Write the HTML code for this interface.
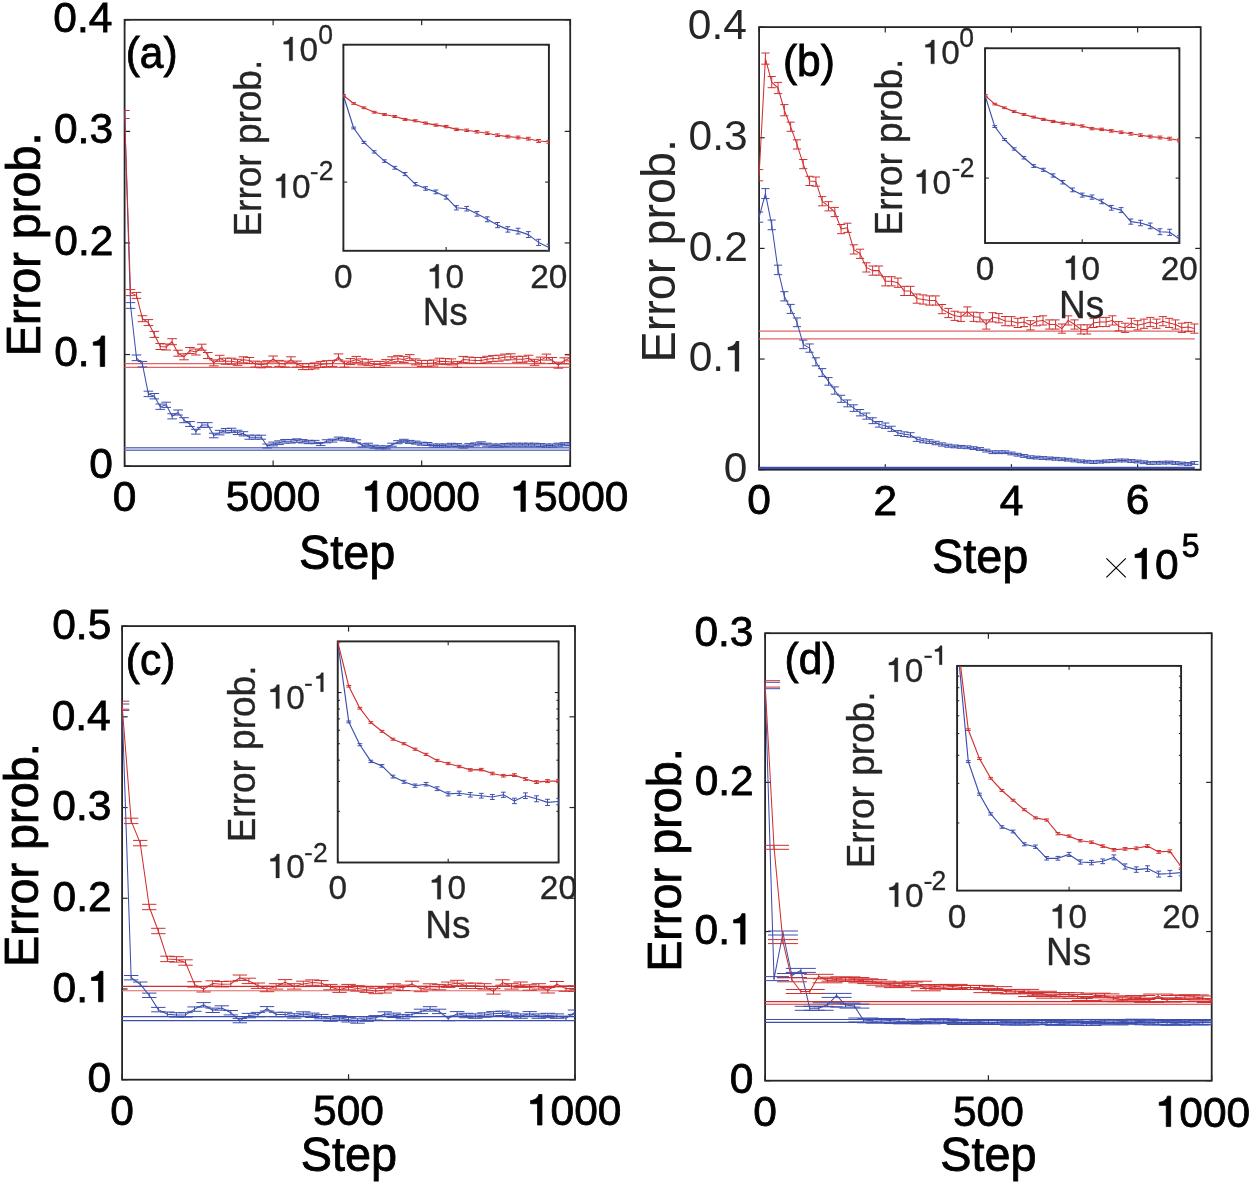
<!DOCTYPE html>
<html><head><meta charset="utf-8"><style>html,body{margin:0;padding:0;background:#fff;overflow:hidden}svg{display:block;will-change:transform}</style></head>
<body><svg width="1250" height="1183" viewBox="0 0 1250 1183" font-family="Liberation Sans, sans-serif">
<rect width="1250" height="1183" fill="#fff"/>
<rect x="124.60" y="19.80" width="445.60" height="446.30" fill="none" stroke="#262626" stroke-width="1.8"/>
<line x1="124.60" y1="466.10" x2="124.60" y2="460.60" stroke="#262626" stroke-width="1.2"/>
<line x1="124.60" y1="19.80" x2="124.60" y2="25.30" stroke="#262626" stroke-width="1.2"/>
<line x1="273.13" y1="466.10" x2="273.13" y2="460.60" stroke="#262626" stroke-width="1.2"/>
<line x1="273.13" y1="19.80" x2="273.13" y2="25.30" stroke="#262626" stroke-width="1.2"/>
<line x1="421.67" y1="466.10" x2="421.67" y2="460.60" stroke="#262626" stroke-width="1.2"/>
<line x1="421.67" y1="19.80" x2="421.67" y2="25.30" stroke="#262626" stroke-width="1.2"/>
<line x1="570.20" y1="466.10" x2="570.20" y2="460.60" stroke="#262626" stroke-width="1.2"/>
<line x1="570.20" y1="19.80" x2="570.20" y2="25.30" stroke="#262626" stroke-width="1.2"/>
<line x1="124.60" y1="466.10" x2="130.10" y2="466.10" stroke="#262626" stroke-width="1.2"/>
<line x1="570.20" y1="466.10" x2="564.70" y2="466.10" stroke="#262626" stroke-width="1.2"/>
<line x1="124.60" y1="354.53" x2="130.10" y2="354.53" stroke="#262626" stroke-width="1.2"/>
<line x1="570.20" y1="354.53" x2="564.70" y2="354.53" stroke="#262626" stroke-width="1.2"/>
<line x1="124.60" y1="242.95" x2="130.10" y2="242.95" stroke="#262626" stroke-width="1.2"/>
<line x1="570.20" y1="242.95" x2="564.70" y2="242.95" stroke="#262626" stroke-width="1.2"/>
<line x1="124.60" y1="131.38" x2="130.10" y2="131.38" stroke="#262626" stroke-width="1.2"/>
<line x1="570.20" y1="131.38" x2="564.70" y2="131.38" stroke="#262626" stroke-width="1.2"/>
<line x1="124.60" y1="19.80" x2="130.10" y2="19.80" stroke="#262626" stroke-width="1.2"/>
<line x1="570.20" y1="19.80" x2="564.70" y2="19.80" stroke="#262626" stroke-width="1.2"/>
<text transform="translate(112.78,511.37) scale(1,1.01)" font-size="42.5" fill="#000" stroke="#000" stroke-width="0.8">0</text>
<text transform="translate(225.85,511.37) scale(1,1.01)" font-size="42.5" fill="#000" stroke="#000" stroke-width="0.8">5000</text>
<g transform="translate(361.78,511.37) scale(1,1.01)" fill="#000" stroke="#000" stroke-width="0.8"><path transform="translate(0.00,0) scale(0.04250,-0.04250)" stroke-width="18.82" d="M250,0L353,0L353,709L278,709C262,640 200,578 85,567L85,494L250,494Z"/><text x="23.64" y="0" font-size="42.5">0000</text></g>
<g transform="translate(510.32,511.37) scale(1,1.01)" fill="#000" stroke="#000" stroke-width="0.8"><path transform="translate(0.00,0) scale(0.04250,-0.04250)" stroke-width="18.82" d="M250,0L353,0L353,709L278,709C262,640 200,578 85,567L85,494L250,494Z"/><text x="23.64" y="0" font-size="42.5">5000</text></g>
<text transform="translate(89.23,477.97) scale(1,1.01)" font-size="42.5" fill="#000" stroke="#000" stroke-width="0.8">0</text>
<g transform="translate(54.21,366.40) scale(1,1.01)" fill="#000" stroke="#000" stroke-width="0.8"><text x="0.00" y="0" font-size="42.5">0.</text><path transform="translate(35.44,0) scale(0.04250,-0.04250)" stroke-width="18.82" d="M250,0L353,0L353,709L278,709C262,640 200,578 85,567L85,494L250,494Z"/></g>
<text transform="translate(54.25,254.82) scale(1,1.01)" font-size="42.5" fill="#000" stroke="#000" stroke-width="0.8">0.2</text>
<text transform="translate(53.99,143.25) scale(1,1.01)" font-size="42.5" fill="#000" stroke="#000" stroke-width="0.8">0.3</text>
<text transform="translate(53.36,31.67) scale(1,1.01)" font-size="42.5" fill="#000" stroke="#000" stroke-width="0.8">0.4</text>
<text transform="translate(298.97,568.97) scale(1,1.04)" font-size="46.8" fill="#000" stroke="#000" stroke-width="0.8">Step</text>
<text transform="translate(39.89,356.19) rotate(-90) scale(1,1.04)" font-size="46.8" fill="#000" stroke="#000" stroke-width="0.8">Error prob.</text>
<text transform="translate(125.67,67.94) scale(1,1.04)" font-size="42.5" fill="#000" stroke="#000" stroke-width="0.8">(a)</text>
<rect x="343.40" y="44.70" width="205.50" height="206.10" fill="#fff"/>
<rect x="343.40" y="44.70" width="205.50" height="206.10" fill="none" stroke="#262626" stroke-width="1.9"/>
<line x1="343.40" y1="250.80" x2="343.40" y2="247.00" stroke="#262626" stroke-width="1.1"/>
<line x1="343.40" y1="44.70" x2="343.40" y2="48.50" stroke="#262626" stroke-width="1.1"/>
<line x1="446.15" y1="250.80" x2="446.15" y2="247.00" stroke="#262626" stroke-width="1.1"/>
<line x1="446.15" y1="44.70" x2="446.15" y2="48.50" stroke="#262626" stroke-width="1.1"/>
<line x1="548.90" y1="250.80" x2="548.90" y2="247.00" stroke="#262626" stroke-width="1.1"/>
<line x1="548.90" y1="44.70" x2="548.90" y2="48.50" stroke="#262626" stroke-width="1.1"/>
<line x1="343.40" y1="182.10" x2="347.20" y2="182.10" stroke="#262626" stroke-width="1.1"/>
<line x1="548.90" y1="182.10" x2="545.10" y2="182.10" stroke="#262626" stroke-width="1.1"/>
<line x1="343.40" y1="44.70" x2="347.20" y2="44.70" stroke="#262626" stroke-width="1.1"/>
<line x1="548.90" y1="44.70" x2="545.10" y2="44.70" stroke="#262626" stroke-width="1.1"/>
<rect x="759.10" y="27.10" width="441.60" height="442.60" fill="none" stroke="#262626" stroke-width="1.8"/>
<line x1="759.10" y1="469.70" x2="759.10" y2="464.20" stroke="#262626" stroke-width="1.2"/>
<line x1="759.10" y1="27.10" x2="759.10" y2="32.60" stroke="#262626" stroke-width="1.2"/>
<line x1="885.27" y1="469.70" x2="885.27" y2="464.20" stroke="#262626" stroke-width="1.2"/>
<line x1="885.27" y1="27.10" x2="885.27" y2="32.60" stroke="#262626" stroke-width="1.2"/>
<line x1="1011.44" y1="469.70" x2="1011.44" y2="464.20" stroke="#262626" stroke-width="1.2"/>
<line x1="1011.44" y1="27.10" x2="1011.44" y2="32.60" stroke="#262626" stroke-width="1.2"/>
<line x1="1137.61" y1="469.70" x2="1137.61" y2="464.20" stroke="#262626" stroke-width="1.2"/>
<line x1="1137.61" y1="27.10" x2="1137.61" y2="32.60" stroke="#262626" stroke-width="1.2"/>
<line x1="759.10" y1="469.70" x2="764.60" y2="469.70" stroke="#262626" stroke-width="1.2"/>
<line x1="1200.70" y1="469.70" x2="1195.20" y2="469.70" stroke="#262626" stroke-width="1.2"/>
<line x1="759.10" y1="359.05" x2="764.60" y2="359.05" stroke="#262626" stroke-width="1.2"/>
<line x1="1200.70" y1="359.05" x2="1195.20" y2="359.05" stroke="#262626" stroke-width="1.2"/>
<line x1="759.10" y1="248.40" x2="764.60" y2="248.40" stroke="#262626" stroke-width="1.2"/>
<line x1="1200.70" y1="248.40" x2="1195.20" y2="248.40" stroke="#262626" stroke-width="1.2"/>
<line x1="759.10" y1="137.75" x2="764.60" y2="137.75" stroke="#262626" stroke-width="1.2"/>
<line x1="1200.70" y1="137.75" x2="1195.20" y2="137.75" stroke="#262626" stroke-width="1.2"/>
<line x1="759.10" y1="27.10" x2="764.60" y2="27.10" stroke="#262626" stroke-width="1.2"/>
<line x1="1200.70" y1="27.10" x2="1195.20" y2="27.10" stroke="#262626" stroke-width="1.2"/>
<text transform="translate(747.28,514.37) scale(1,1.01)" font-size="42.5" fill="#000" stroke="#000" stroke-width="0.8">0</text>
<text transform="translate(873.46,514.80) scale(1,1.01)" font-size="42.5" fill="#000" stroke="#000" stroke-width="0.8">2</text>
<text transform="translate(999.76,514.80) scale(1,1.01)" font-size="42.5" fill="#000" stroke="#000" stroke-width="0.8">4</text>
<text transform="translate(1125.65,514.37) scale(1,1.01)" font-size="42.5" fill="#000" stroke="#000" stroke-width="0.8">6</text>
<text transform="translate(723.73,482.07) scale(1,1.01)" font-size="42.5" fill="#262626" stroke="#262626" stroke-width="0">0</text>
<g transform="translate(688.71,371.42) scale(1,1.01)" fill="#262626" stroke="#262626" stroke-width="0"><text x="0.00" y="0" font-size="42.5">0.</text><path transform="translate(35.44,0) scale(0.04250,-0.04250)" stroke-width="0.00" d="M250,0L353,0L353,709L278,709C262,640 200,578 85,567L85,494L250,494Z"/></g>
<text transform="translate(688.75,260.77) scale(1,1.01)" font-size="42.5" fill="#262626" stroke="#262626" stroke-width="0">0.2</text>
<text transform="translate(688.50,150.12) scale(1,1.01)" font-size="42.5" fill="#262626" stroke="#262626" stroke-width="0">0.3</text>
<text transform="translate(687.86,39.47) scale(1,1.01)" font-size="42.5" fill="#262626" stroke="#262626" stroke-width="0">0.4</text>
<text transform="translate(932.05,573.37) scale(1,1.04)" font-size="46.8" fill="#000" stroke="#000" stroke-width="0.8">Step</text>
<text transform="translate(674.89,362.54) rotate(-90) scale(1,1.04)" font-size="46.8" fill="#262626" stroke="#262626" stroke-width="0">Error prob.</text>
<text transform="translate(782.97,75.65) scale(1,1.04)" font-size="42.5" fill="#000" stroke="#000" stroke-width="0.8">(b)</text>
<rect x="985.05" y="48.26" width="194.35" height="194.74" fill="#fff"/>
<rect x="985.05" y="48.26" width="194.35" height="194.74" fill="none" stroke="#262626" stroke-width="1.9"/>
<line x1="985.05" y1="243.00" x2="985.05" y2="239.20" stroke="#262626" stroke-width="1.1"/>
<line x1="985.05" y1="48.26" x2="985.05" y2="52.06" stroke="#262626" stroke-width="1.1"/>
<line x1="1082.22" y1="243.00" x2="1082.22" y2="239.20" stroke="#262626" stroke-width="1.1"/>
<line x1="1082.22" y1="48.26" x2="1082.22" y2="52.06" stroke="#262626" stroke-width="1.1"/>
<line x1="1179.40" y1="243.00" x2="1179.40" y2="239.20" stroke="#262626" stroke-width="1.1"/>
<line x1="1179.40" y1="48.26" x2="1179.40" y2="52.06" stroke="#262626" stroke-width="1.1"/>
<line x1="985.05" y1="178.09" x2="988.85" y2="178.09" stroke="#262626" stroke-width="1.1"/>
<line x1="1179.40" y1="178.09" x2="1175.60" y2="178.09" stroke="#262626" stroke-width="1.1"/>
<line x1="985.05" y1="48.26" x2="988.85" y2="48.26" stroke="#262626" stroke-width="1.1"/>
<line x1="1179.40" y1="48.26" x2="1175.60" y2="48.26" stroke="#262626" stroke-width="1.1"/>
<rect x="122.10" y="626.10" width="452.90" height="453.60" fill="none" stroke="#262626" stroke-width="1.8"/>
<line x1="122.10" y1="1079.70" x2="122.10" y2="1074.20" stroke="#262626" stroke-width="1.2"/>
<line x1="122.10" y1="626.10" x2="122.10" y2="631.60" stroke="#262626" stroke-width="1.2"/>
<line x1="348.55" y1="1079.70" x2="348.55" y2="1074.20" stroke="#262626" stroke-width="1.2"/>
<line x1="348.55" y1="626.10" x2="348.55" y2="631.60" stroke="#262626" stroke-width="1.2"/>
<line x1="575.00" y1="1079.70" x2="575.00" y2="1074.20" stroke="#262626" stroke-width="1.2"/>
<line x1="575.00" y1="626.10" x2="575.00" y2="631.60" stroke="#262626" stroke-width="1.2"/>
<line x1="122.10" y1="1079.70" x2="127.60" y2="1079.70" stroke="#262626" stroke-width="1.2"/>
<line x1="575.00" y1="1079.70" x2="569.50" y2="1079.70" stroke="#262626" stroke-width="1.2"/>
<line x1="122.10" y1="988.98" x2="127.60" y2="988.98" stroke="#262626" stroke-width="1.2"/>
<line x1="575.00" y1="988.98" x2="569.50" y2="988.98" stroke="#262626" stroke-width="1.2"/>
<line x1="122.10" y1="898.26" x2="127.60" y2="898.26" stroke="#262626" stroke-width="1.2"/>
<line x1="575.00" y1="898.26" x2="569.50" y2="898.26" stroke="#262626" stroke-width="1.2"/>
<line x1="122.10" y1="807.54" x2="127.60" y2="807.54" stroke="#262626" stroke-width="1.2"/>
<line x1="575.00" y1="807.54" x2="569.50" y2="807.54" stroke="#262626" stroke-width="1.2"/>
<line x1="122.10" y1="716.82" x2="127.60" y2="716.82" stroke="#262626" stroke-width="1.2"/>
<line x1="575.00" y1="716.82" x2="569.50" y2="716.82" stroke="#262626" stroke-width="1.2"/>
<line x1="122.10" y1="626.10" x2="127.60" y2="626.10" stroke="#262626" stroke-width="1.2"/>
<line x1="575.00" y1="626.10" x2="569.50" y2="626.10" stroke="#262626" stroke-width="1.2"/>
<text transform="translate(110.28,1124.97) scale(1,1.01)" font-size="42.5" fill="#000" stroke="#000" stroke-width="0.8">0</text>
<text transform="translate(313.08,1124.97) scale(1,1.01)" font-size="42.5" fill="#000" stroke="#000" stroke-width="0.8">500</text>
<g transform="translate(526.95,1124.97) scale(1,1.01)" fill="#000" stroke="#000" stroke-width="0.8"><path transform="translate(0.00,0) scale(0.04250,-0.04250)" stroke-width="18.82" d="M250,0L353,0L353,709L278,709C262,640 200,578 85,567L85,494L250,494Z"/><text x="23.64" y="0" font-size="42.5">000</text></g>
<text transform="translate(87.53,1092.47) scale(1,1.01)" font-size="42.5" fill="#000" stroke="#000" stroke-width="0.8">0</text>
<g transform="translate(52.51,1001.75) scale(1,1.01)" fill="#000" stroke="#000" stroke-width="0.8"><text x="0.00" y="0" font-size="42.5">0.</text><path transform="translate(35.44,0) scale(0.04250,-0.04250)" stroke-width="18.82" d="M250,0L353,0L353,709L278,709C262,640 200,578 85,567L85,494L250,494Z"/></g>
<text transform="translate(52.55,911.03) scale(1,1.01)" font-size="42.5" fill="#000" stroke="#000" stroke-width="0.8">0.2</text>
<text transform="translate(52.29,820.31) scale(1,1.01)" font-size="42.5" fill="#000" stroke="#000" stroke-width="0.8">0.3</text>
<text transform="translate(51.66,729.59) scale(1,1.01)" font-size="42.5" fill="#000" stroke="#000" stroke-width="0.8">0.4</text>
<text transform="translate(52.21,638.87) scale(1,1.01)" font-size="42.5" fill="#000" stroke="#000" stroke-width="0.8">0.5</text>
<text transform="translate(300.85,1171.07) scale(1,1.04)" font-size="46.8" fill="#000" stroke="#000" stroke-width="0.8">Step</text>
<text transform="translate(38.29,966.94) rotate(-90) scale(1,1.04)" font-size="46.8" fill="#000" stroke="#000" stroke-width="0.8">Error prob.</text>
<text transform="translate(125.77,674.84) scale(1,1.04)" font-size="42.5" fill="#000" stroke="#000" stroke-width="0.8">(c)</text>
<rect x="337.75" y="641.40" width="220.85" height="221.10" fill="#fff"/>
<rect x="337.75" y="641.40" width="220.85" height="221.10" fill="none" stroke="#262626" stroke-width="1.9"/>
<line x1="337.75" y1="862.50" x2="337.75" y2="858.70" stroke="#262626" stroke-width="1.1"/>
<line x1="337.75" y1="641.40" x2="337.75" y2="645.20" stroke="#262626" stroke-width="1.1"/>
<line x1="448.18" y1="862.50" x2="448.18" y2="858.70" stroke="#262626" stroke-width="1.1"/>
<line x1="448.18" y1="641.40" x2="448.18" y2="645.20" stroke="#262626" stroke-width="1.1"/>
<line x1="558.60" y1="862.50" x2="558.60" y2="858.70" stroke="#262626" stroke-width="1.1"/>
<line x1="558.60" y1="641.40" x2="558.60" y2="645.20" stroke="#262626" stroke-width="1.1"/>
<line x1="337.75" y1="862.50" x2="341.55" y2="862.50" stroke="#262626" stroke-width="1.1"/>
<line x1="558.60" y1="862.50" x2="554.80" y2="862.50" stroke="#262626" stroke-width="1.1"/>
<line x1="337.75" y1="692.56" x2="341.55" y2="692.56" stroke="#262626" stroke-width="1.1"/>
<line x1="558.60" y1="692.56" x2="554.80" y2="692.56" stroke="#262626" stroke-width="1.1"/>
<line x1="337.75" y1="811.34" x2="339.95" y2="811.34" stroke="#262626" stroke-width="1.1"/>
<line x1="558.60" y1="811.34" x2="556.40" y2="811.34" stroke="#262626" stroke-width="1.1"/>
<line x1="337.75" y1="781.42" x2="339.95" y2="781.42" stroke="#262626" stroke-width="1.1"/>
<line x1="558.60" y1="781.42" x2="556.40" y2="781.42" stroke="#262626" stroke-width="1.1"/>
<line x1="337.75" y1="760.18" x2="339.95" y2="760.18" stroke="#262626" stroke-width="1.1"/>
<line x1="558.60" y1="760.18" x2="556.40" y2="760.18" stroke="#262626" stroke-width="1.1"/>
<line x1="337.75" y1="743.72" x2="339.95" y2="743.72" stroke="#262626" stroke-width="1.1"/>
<line x1="558.60" y1="743.72" x2="556.40" y2="743.72" stroke="#262626" stroke-width="1.1"/>
<line x1="337.75" y1="730.26" x2="339.95" y2="730.26" stroke="#262626" stroke-width="1.1"/>
<line x1="558.60" y1="730.26" x2="556.40" y2="730.26" stroke="#262626" stroke-width="1.1"/>
<line x1="337.75" y1="718.88" x2="339.95" y2="718.88" stroke="#262626" stroke-width="1.1"/>
<line x1="558.60" y1="718.88" x2="556.40" y2="718.88" stroke="#262626" stroke-width="1.1"/>
<line x1="337.75" y1="709.03" x2="339.95" y2="709.03" stroke="#262626" stroke-width="1.1"/>
<line x1="558.60" y1="709.03" x2="556.40" y2="709.03" stroke="#262626" stroke-width="1.1"/>
<line x1="337.75" y1="700.33" x2="339.95" y2="700.33" stroke="#262626" stroke-width="1.1"/>
<line x1="558.60" y1="700.33" x2="556.40" y2="700.33" stroke="#262626" stroke-width="1.1"/>
<line x1="337.75" y1="641.40" x2="339.95" y2="641.40" stroke="#262626" stroke-width="1.1"/>
<line x1="558.60" y1="641.40" x2="556.40" y2="641.40" stroke="#262626" stroke-width="1.1"/>
<rect x="765.10" y="633.20" width="446.60" height="447.50" fill="none" stroke="#262626" stroke-width="1.8"/>
<line x1="765.10" y1="1080.70" x2="765.10" y2="1075.20" stroke="#262626" stroke-width="1.2"/>
<line x1="765.10" y1="633.20" x2="765.10" y2="638.70" stroke="#262626" stroke-width="1.2"/>
<line x1="988.40" y1="1080.70" x2="988.40" y2="1075.20" stroke="#262626" stroke-width="1.2"/>
<line x1="988.40" y1="633.20" x2="988.40" y2="638.70" stroke="#262626" stroke-width="1.2"/>
<line x1="765.10" y1="1080.70" x2="770.60" y2="1080.70" stroke="#262626" stroke-width="1.2"/>
<line x1="1211.70" y1="1080.70" x2="1206.20" y2="1080.70" stroke="#262626" stroke-width="1.2"/>
<line x1="765.10" y1="931.53" x2="770.60" y2="931.53" stroke="#262626" stroke-width="1.2"/>
<line x1="1211.70" y1="931.53" x2="1206.20" y2="931.53" stroke="#262626" stroke-width="1.2"/>
<line x1="765.10" y1="782.37" x2="770.60" y2="782.37" stroke="#262626" stroke-width="1.2"/>
<line x1="1211.70" y1="782.37" x2="1206.20" y2="782.37" stroke="#262626" stroke-width="1.2"/>
<line x1="765.10" y1="633.20" x2="770.60" y2="633.20" stroke="#262626" stroke-width="1.2"/>
<line x1="1211.70" y1="633.20" x2="1206.20" y2="633.20" stroke="#262626" stroke-width="1.2"/>
<text transform="translate(753.28,1126.37) scale(1,1.01)" font-size="42.5" fill="#000" stroke="#000" stroke-width="0.8">0</text>
<text transform="translate(952.93,1126.37) scale(1,1.01)" font-size="42.5" fill="#000" stroke="#000" stroke-width="0.8">500</text>
<text transform="translate(729.63,1093.27) scale(1,1.01)" font-size="42.5" fill="#000" stroke="#000" stroke-width="0.8">0</text>
<g transform="translate(694.61,944.10) scale(1,1.01)" fill="#000" stroke="#000" stroke-width="0.8"><text x="0.00" y="0" font-size="42.5">0.</text><path transform="translate(35.44,0) scale(0.04250,-0.04250)" stroke-width="18.82" d="M250,0L353,0L353,709L278,709C262,640 200,578 85,567L85,494L250,494Z"/></g>
<text transform="translate(694.65,794.94) scale(1,1.01)" font-size="42.5" fill="#000" stroke="#000" stroke-width="0.8">0.2</text>
<text transform="translate(694.39,645.77) scale(1,1.01)" font-size="42.5" fill="#000" stroke="#000" stroke-width="0.8">0.3</text>
<text transform="translate(940.25,1171.07) scale(1,1.04)" font-size="46.8" fill="#000" stroke="#000" stroke-width="0.8">Step</text>
<g transform="translate(1155.65,1126.57) scale(1,1.01)" fill="#000" stroke="#000" stroke-width="0.8"><path transform="translate(0.00,0) scale(0.04250,-0.04250)" stroke-width="18.82" d="M250,0L353,0L353,709L278,709C262,640 200,578 85,567L85,494L250,494Z"/><text x="23.64" y="0" font-size="42.5">000</text></g>
<line x1="1211.70" y1="1080.70" x2="1211.70" y2="1075.20" stroke="#262626" stroke-width="1.2"/>
<line x1="1211.70" y1="633.20" x2="1211.70" y2="638.70" stroke="#262626" stroke-width="1.2"/>
<text transform="translate(681.39,971.84) rotate(-90) scale(1,1.04)" font-size="46.8" fill="#000" stroke="#000" stroke-width="0.8">Error prob.</text>
<text transform="translate(784.57,674.04) scale(1,1.04)" font-size="42.5" fill="#000" stroke="#000" stroke-width="0.8">(d)</text>
<rect x="957.10" y="665.90" width="224.00" height="224.70" fill="#fff"/>
<rect x="957.10" y="665.90" width="224.00" height="224.70" fill="none" stroke="#262626" stroke-width="1.9"/>
<line x1="957.10" y1="890.60" x2="957.10" y2="886.80" stroke="#262626" stroke-width="1.1"/>
<line x1="957.10" y1="665.90" x2="957.10" y2="669.70" stroke="#262626" stroke-width="1.1"/>
<line x1="1069.10" y1="890.60" x2="1069.10" y2="886.80" stroke="#262626" stroke-width="1.1"/>
<line x1="1069.10" y1="665.90" x2="1069.10" y2="669.70" stroke="#262626" stroke-width="1.1"/>
<line x1="1181.10" y1="890.60" x2="1181.10" y2="886.80" stroke="#262626" stroke-width="1.1"/>
<line x1="1181.10" y1="665.90" x2="1181.10" y2="669.70" stroke="#262626" stroke-width="1.1"/>
<line x1="957.10" y1="890.60" x2="960.90" y2="890.60" stroke="#262626" stroke-width="1.1"/>
<line x1="1181.10" y1="890.60" x2="1177.30" y2="890.60" stroke="#262626" stroke-width="1.1"/>
<line x1="957.10" y1="665.90" x2="960.90" y2="665.90" stroke="#262626" stroke-width="1.1"/>
<line x1="1181.10" y1="665.90" x2="1177.30" y2="665.90" stroke="#262626" stroke-width="1.1"/>
<line x1="957.10" y1="822.96" x2="959.30" y2="822.96" stroke="#262626" stroke-width="1.1"/>
<line x1="1181.10" y1="822.96" x2="1178.90" y2="822.96" stroke="#262626" stroke-width="1.1"/>
<line x1="957.10" y1="783.39" x2="959.30" y2="783.39" stroke="#262626" stroke-width="1.1"/>
<line x1="1181.10" y1="783.39" x2="1178.90" y2="783.39" stroke="#262626" stroke-width="1.1"/>
<line x1="957.10" y1="755.32" x2="959.30" y2="755.32" stroke="#262626" stroke-width="1.1"/>
<line x1="1181.10" y1="755.32" x2="1178.90" y2="755.32" stroke="#262626" stroke-width="1.1"/>
<line x1="957.10" y1="733.54" x2="959.30" y2="733.54" stroke="#262626" stroke-width="1.1"/>
<line x1="1181.10" y1="733.54" x2="1178.90" y2="733.54" stroke="#262626" stroke-width="1.1"/>
<line x1="957.10" y1="715.75" x2="959.30" y2="715.75" stroke="#262626" stroke-width="1.1"/>
<line x1="1181.10" y1="715.75" x2="1178.90" y2="715.75" stroke="#262626" stroke-width="1.1"/>
<line x1="957.10" y1="700.71" x2="959.30" y2="700.71" stroke="#262626" stroke-width="1.1"/>
<line x1="1181.10" y1="700.71" x2="1178.90" y2="700.71" stroke="#262626" stroke-width="1.1"/>
<line x1="957.10" y1="687.68" x2="959.30" y2="687.68" stroke="#262626" stroke-width="1.1"/>
<line x1="1181.10" y1="687.68" x2="1178.90" y2="687.68" stroke="#262626" stroke-width="1.1"/>
<line x1="957.10" y1="676.18" x2="959.30" y2="676.18" stroke="#262626" stroke-width="1.1"/>
<line x1="1181.10" y1="676.18" x2="1178.90" y2="676.18" stroke="#262626" stroke-width="1.1"/>
<clipPath id="ca"><rect x="124.60" y="19.80" width="445.60" height="446.30"/></clipPath>
<line x1="124.60" y1="363.60" x2="570.20" y2="363.60" stroke="#e06464" stroke-width="1.2"/>
<line x1="124.60" y1="367.40" x2="570.20" y2="367.40" stroke="#e06464" stroke-width="1.2"/>
<line x1="124.60" y1="447.80" x2="570.20" y2="447.80" stroke="#6a78c4" stroke-width="1.4"/>
<line x1="124.60" y1="450.20" x2="570.20" y2="450.20" stroke="#6a78c4" stroke-width="1.4"/>
<g clip-path="url(#ca)">
<path d="M124.60,110.50V118.50M119.80,110.50H129.40M119.80,118.50H129.40M130.54,302.64V308.36M125.74,302.64H135.34M125.74,308.36H135.34M136.48,354.98V360.62M131.68,354.98H141.28M131.68,360.62H141.28M142.42,361.42V366.98M137.62,361.42H147.22M137.62,366.98H147.22M148.37,391.16V396.64M143.57,391.16H153.17M143.57,396.64H153.17M154.31,393.50V398.90M149.51,393.50H159.11M149.51,398.90H159.11M160.25,404.04V409.36M155.45,404.04H165.05M155.45,409.36H165.05M166.19,402.18V407.42M161.39,402.18H170.99M161.39,407.42H170.99M172.13,413.72V418.88M167.33,413.72H176.93M167.33,418.88H176.93M178.07,409.96V415.04M173.27,409.96H182.87M173.27,415.04H182.87M184.01,417.70V422.70M179.21,417.70H188.81M179.21,422.70H188.81M189.95,421.54V426.46M185.15,421.54H194.75M185.15,426.46H194.75M195.90,429.28V434.12M191.10,429.28H200.70M191.10,434.12H200.70M201.84,422.62V427.38M197.04,422.62H206.64M197.04,427.38H206.64M207.78,422.66V427.34M202.98,422.66H212.58M202.98,427.34H212.58M213.72,433.20V437.80M208.92,433.20H218.52M208.92,437.80H218.52M219.66,430.34V434.86M214.86,430.34H224.46M214.86,434.86H224.46M225.60,428.48V432.92M220.80,428.48H230.40M220.80,432.92H230.40M231.54,428.22V432.58M226.74,428.22H236.34M226.74,432.58H236.34M237.49,430.26V434.54M232.69,430.26H242.29M232.69,434.54H242.29M243.43,431.70V435.90M238.63,431.70H248.23M238.63,435.90H248.23M249.37,435.14V439.26M244.57,435.14H254.17M244.57,439.26H254.17M255.31,435.18V439.22M250.51,435.18H260.11M250.51,439.22H260.11M261.25,435.22V439.18M256.45,435.22H266.05M256.45,439.18H266.05M267.19,444.06V447.94M262.39,444.06H271.99M262.39,447.94H271.99M273.13,442.10V445.90M268.33,442.10H277.93M268.33,445.90H277.93M279.07,440.84V444.56M274.27,440.84H283.87M274.27,444.56H283.87M285.02,439.48V443.12M280.22,439.48H289.82M280.22,443.12H289.82M290.96,439.52V443.08M286.16,439.52H295.76M286.16,443.08H295.76M296.90,438.86V442.34M292.10,438.86H301.70M292.10,442.34H301.70M302.84,439.60V443.00M298.04,439.60H307.64M298.04,443.00H307.64M308.78,440.34V443.66M303.98,440.34H313.58M303.98,443.66H313.58M314.72,440.38V443.62M309.92,440.38H319.52M309.92,443.62H319.52M320.66,442.42V445.58M315.86,442.42H325.46M315.86,445.58H325.46M326.61,439.76V442.84M321.81,439.76H331.41M321.81,442.84H331.41M332.55,439.10V442.10M327.75,439.10H337.35M327.75,442.10H337.35M338.49,437.10V440.10M333.69,437.10H343.29M333.69,440.10H343.29M344.43,437.80V440.80M339.63,437.80H349.23M339.63,440.80H349.23M350.37,438.40V441.40M345.57,438.40H355.17M345.57,441.40H355.17M356.31,439.80V442.80M351.51,439.80H361.11M351.51,442.80H361.11M362.25,443.90V446.90M357.45,443.90H367.05M357.45,446.90H367.05M368.19,443.20V446.20M363.39,443.20H372.99M363.39,446.20H372.99M374.14,445.20V448.20M369.34,445.20H378.94M369.34,448.20H378.94M380.08,445.90V448.90M375.28,445.90H384.88M375.28,448.90H384.88M386.02,445.90V448.90M381.22,445.90H390.82M381.22,448.90H390.82M391.96,443.20V446.20M387.16,443.20H396.76M387.16,446.20H396.76M397.90,440.70V443.70M393.10,440.70H402.70M393.10,443.70H402.70M403.84,439.30V442.30M399.04,439.30H408.64M399.04,442.30H408.64M409.78,440.40V443.40M404.98,440.40H414.58M404.98,443.40H414.58M415.73,441.10V444.10M410.93,441.10H420.53M410.93,444.10H420.53M421.67,442.20V445.20M416.87,442.20H426.47M416.87,445.20H426.47M427.61,442.50V445.50M422.81,442.50H432.41M422.81,445.50H432.41M433.55,444.00V447.00M428.75,444.00H438.35M428.75,447.00H438.35M439.49,444.00V447.00M434.69,444.00H444.29M434.69,447.00H444.29M445.43,444.00V447.00M440.63,444.00H450.23M440.63,447.00H450.23M451.37,443.30V446.30M446.57,443.30H456.17M446.57,446.30H456.17M457.31,443.60V446.60M452.51,443.60H462.11M452.51,446.60H462.11M463.26,445.10V448.10M458.46,445.10H468.06M458.46,448.10H468.06M469.20,443.60V446.60M464.40,443.60H474.00M464.40,446.60H474.00M475.14,442.90V445.90M470.34,442.90H479.94M470.34,445.90H479.94M481.08,441.80V444.80M476.28,441.80H485.88M476.28,444.80H485.88M487.02,443.20V446.20M482.22,443.20H491.82M482.22,446.20H491.82M492.96,444.00V447.00M488.16,444.00H497.76M488.16,447.00H497.76M498.90,444.00V447.00M494.10,444.00H503.70M494.10,447.00H503.70M504.85,443.60V446.60M500.05,443.60H509.65M500.05,446.60H509.65M510.79,443.20V446.20M505.99,443.20H515.59M505.99,446.20H515.59M516.73,443.20V446.20M511.93,443.20H521.53M511.93,446.20H521.53M522.67,443.20V446.20M517.87,443.20H527.47M517.87,446.20H527.47M528.61,443.20V446.20M523.81,443.20H533.41M523.81,446.20H533.41M534.55,443.20V446.20M529.75,443.20H539.35M529.75,446.20H539.35M540.49,443.60V446.60M535.69,443.60H545.29M535.69,446.60H545.29M546.43,444.00V447.00M541.63,444.00H551.23M541.63,447.00H551.23M552.38,444.00V447.00M547.58,444.00H557.18M547.58,447.00H557.18M558.32,443.20V446.20M553.52,443.20H563.12M553.52,446.20H563.12M564.26,442.80V445.80M559.46,442.80H569.06M559.46,445.80H569.06M570.20,442.50V445.50M565.40,442.50H575.00M565.40,445.50H575.00" fill="none" stroke="#3d4fae" stroke-width="1.0"/>
<polyline points="124.60,114.50 130.54,305.50 136.48,357.80 142.42,364.20 148.37,393.90 154.31,396.20 160.25,406.70 166.19,404.80 172.13,416.30 178.07,412.50 184.01,420.20 189.95,424.00 195.90,431.70 201.84,425.00 207.78,425.00 213.72,435.50 219.66,432.60 225.60,430.70 231.54,430.40 237.49,432.40 243.43,433.80 249.37,437.20 255.31,437.20 261.25,437.20 267.19,446.00 273.13,444.00 279.07,442.70 285.02,441.30 290.96,441.30 296.90,440.60 302.84,441.30 308.78,442.00 314.72,442.00 320.66,444.00 326.61,441.30 332.55,440.60 338.49,438.60 344.43,439.30 350.37,439.90 356.31,441.30 362.25,445.40 368.19,444.70 374.14,446.70 380.08,447.40 386.02,447.40 391.96,444.70 397.90,442.20 403.84,440.80 409.78,441.90 415.73,442.60 421.67,443.70 427.61,444.00 433.55,445.50 439.49,445.50 445.43,445.50 451.37,444.80 457.31,445.10 463.26,446.60 469.20,445.10 475.14,444.40 481.08,443.30 487.02,444.70 492.96,445.50 498.90,445.50 504.85,445.10 510.79,444.70 516.73,444.70 522.67,444.70 528.61,444.70 534.55,444.70 540.49,445.10 546.43,445.50 552.38,445.50 558.32,444.70 564.26,444.30 570.20,444.00" fill="none" stroke="#3d4fae" stroke-width="1.05" stroke-linejoin="round" />
</g>
<g clip-path="url(#ca)">
<path d="M124.60,110.50V118.50M119.80,110.50H129.40M119.80,118.50H129.40M130.54,289.60V295.60M125.74,289.60H135.34M125.74,295.60H135.34M136.48,292.40V298.40M131.68,292.40H141.28M131.68,298.40H141.28M142.42,315.70V321.70M137.62,315.70H147.22M137.62,321.70H147.22M148.37,319.60V325.60M143.57,319.60H153.17M143.57,325.60H153.17M154.31,331.40V337.40M149.51,331.40H159.11M149.51,337.40H159.11M160.25,343.50V349.50M155.45,343.50H165.05M155.45,349.50H165.05M166.19,344.00V350.00M161.39,344.00H170.99M161.39,350.00H170.99M172.13,338.70V344.70M167.33,338.70H176.93M167.33,344.70H176.93M178.07,350.20V356.20M173.27,350.20H182.87M173.27,356.20H182.87M184.01,353.80V359.80M179.21,353.80H188.81M179.21,359.80H188.81M189.95,347.50V353.50M185.15,347.50H194.75M185.15,353.50H194.75M195.90,349.00V355.00M191.10,349.00H200.70M191.10,355.00H200.70M201.84,344.20V350.20M197.04,344.20H206.64M197.04,350.20H206.64M207.78,352.50V358.50M202.98,352.50H212.58M202.98,358.50H212.58M213.72,359.90V365.90M208.92,359.90H218.52M208.92,365.90H218.52M219.66,355.30V361.30M214.86,355.30H224.46M214.86,361.30H224.46M225.60,358.20V364.20M220.80,358.20H230.40M220.80,364.20H230.40M231.54,358.20V364.20M226.74,358.20H236.34M226.74,364.20H236.34M237.49,359.30V365.30M232.69,359.30H242.29M232.69,365.30H242.29M243.43,356.80V362.80M238.63,356.80H248.23M238.63,362.80H248.23M249.37,357.50V363.50M244.57,357.50H254.17M244.57,363.50H254.17M255.31,361.10V367.10M250.51,361.10H260.11M250.51,367.10H260.11M261.25,361.80V367.80M256.45,361.80H266.05M256.45,367.80H266.05M267.19,360.70V366.70M262.39,360.70H271.99M262.39,366.70H271.99M273.13,356.00V362.00M268.33,356.00H277.93M268.33,362.00H277.93M279.07,360.40V366.40M274.27,360.40H283.87M274.27,366.40H283.87M285.02,361.10V367.10M280.22,361.10H289.82M280.22,367.10H289.82M290.96,356.80V362.80M286.16,356.80H295.76M286.16,362.80H295.76M296.90,361.10V367.10M292.10,361.10H301.70M292.10,367.10H301.70M302.84,363.60V369.60M298.04,363.60H307.64M298.04,369.60H307.64M308.78,363.60V369.60M303.98,363.60H313.58M303.98,369.60H313.58M314.72,362.90V368.90M309.92,362.90H319.52M309.92,368.90H319.52M320.66,361.40V367.40M315.86,361.40H325.46M315.86,367.40H325.46M326.61,360.70V366.70M321.81,360.70H331.41M321.81,366.70H331.41M332.55,360.40V366.40M327.75,360.40H337.35M327.75,366.40H337.35M338.49,353.90V359.90M333.69,353.90H343.29M333.69,359.90H343.29M344.43,361.10V367.10M339.63,361.10H349.23M339.63,367.10H349.23M350.37,358.60V364.60M345.57,358.60H355.17M345.57,364.60H355.17M356.31,356.40V362.40M351.51,356.40H361.11M351.51,362.40H361.11M362.25,358.90V364.90M357.45,358.90H367.05M357.45,364.90H367.05M368.19,359.30V365.30M363.39,359.30H372.99M363.39,365.30H372.99M374.14,361.40V367.40M369.34,361.40H378.94M369.34,367.40H378.94M380.08,361.40V367.40M375.28,361.40H384.88M375.28,367.40H384.88M386.02,359.60V365.60M381.22,359.60H390.82M381.22,365.60H390.82M391.96,356.80V362.80M387.16,356.80H396.76M387.16,362.80H396.76M397.90,355.70V361.70M393.10,355.70H402.70M393.10,361.70H402.70M403.84,356.40V362.40M399.04,356.40H408.64M399.04,362.40H408.64M409.78,354.60V360.60M404.98,354.60H414.58M404.98,360.60H414.58M415.73,358.90V364.90M410.93,358.90H420.53M410.93,364.90H420.53M421.67,360.40V366.40M416.87,360.40H426.47M416.87,366.40H426.47M427.61,360.40V366.40M422.81,360.40H432.41M422.81,366.40H432.41M433.55,360.00V366.00M428.75,360.00H438.35M428.75,366.00H438.35M439.49,358.20V364.20M434.69,358.20H444.29M434.69,364.20H444.29M445.43,358.60V364.60M440.63,358.60H450.23M440.63,364.60H450.23M451.37,358.90V364.90M446.57,358.90H456.17M446.57,364.90H456.17M457.31,361.40V367.40M452.51,361.40H462.11M452.51,367.40H462.11M463.26,356.40V362.40M458.46,356.40H468.06M458.46,362.40H468.06M469.20,357.10V363.10M464.40,357.10H474.00M464.40,363.10H474.00M475.14,357.50V363.50M470.34,357.50H479.94M470.34,363.50H479.94M481.08,357.50V363.50M476.28,357.50H485.88M476.28,363.50H485.88M487.02,356.30V362.30M482.22,356.30H491.82M482.22,362.30H491.82M492.96,355.60V361.60M488.16,355.60H497.76M488.16,361.60H497.76M498.90,355.20V361.20M494.10,355.20H503.70M494.10,361.20H503.70M504.85,354.10V360.10M500.05,354.10H509.65M500.05,360.10H509.65M510.79,353.80V359.80M505.99,353.80H515.59M505.99,359.80H515.59M516.73,356.30V362.30M511.93,356.30H521.53M511.93,362.30H521.53M522.67,356.30V362.30M517.87,356.30H527.47M517.87,362.30H527.47M528.61,355.20V361.20M523.81,355.20H533.41M523.81,361.20H533.41M534.55,359.30V365.30M529.75,359.30H539.35M529.75,365.30H539.35M540.49,357.10V363.10M535.69,357.10H545.29M535.69,363.10H545.29M546.43,354.10V360.10M541.63,354.10H551.23M541.63,360.10H551.23M552.38,357.50V363.50M547.58,357.50H557.18M547.58,363.50H557.18M558.32,362.20V368.20M553.52,362.20H563.12M553.52,368.20H563.12M564.26,357.80V363.80M559.46,357.80H569.06M559.46,363.80H569.06M570.20,354.90V360.90M565.40,354.90H575.00M565.40,360.90H575.00" fill="none" stroke="#d03030" stroke-width="1.0"/>
<polyline points="124.60,114.50 130.54,292.60 136.48,295.40 142.42,318.70 148.37,322.60 154.31,334.40 160.25,346.50 166.19,347.00 172.13,341.70 178.07,353.20 184.01,356.80 189.95,350.50 195.90,352.00 201.84,347.20 207.78,355.50 213.72,362.90 219.66,358.30 225.60,361.20 231.54,361.20 237.49,362.30 243.43,359.80 249.37,360.50 255.31,364.10 261.25,364.80 267.19,363.70 273.13,359.00 279.07,363.40 285.02,364.10 290.96,359.80 296.90,364.10 302.84,366.60 308.78,366.60 314.72,365.90 320.66,364.40 326.61,363.70 332.55,363.40 338.49,356.90 344.43,364.10 350.37,361.60 356.31,359.40 362.25,361.90 368.19,362.30 374.14,364.40 380.08,364.40 386.02,362.60 391.96,359.80 397.90,358.70 403.84,359.40 409.78,357.60 415.73,361.90 421.67,363.40 427.61,363.40 433.55,363.00 439.49,361.20 445.43,361.60 451.37,361.90 457.31,364.40 463.26,359.40 469.20,360.10 475.14,360.50 481.08,360.50 487.02,359.30 492.96,358.60 498.90,358.20 504.85,357.10 510.79,356.80 516.73,359.30 522.67,359.30 528.61,358.20 534.55,362.30 540.49,360.10 546.43,357.10 552.38,360.50 558.32,365.20 564.26,360.80 570.20,357.90" fill="none" stroke="#d03030" stroke-width="1.05" stroke-linejoin="round" />
</g>
<clipPath id="cb"><rect x="759.10" y="27.10" width="441.60" height="442.60"/></clipPath>
<line x1="759.10" y1="331.00" x2="1194.80" y2="331.00" stroke="#e06464" stroke-width="1.25"/>
<line x1="759.10" y1="338.80" x2="1194.80" y2="338.80" stroke="#e06464" stroke-width="1.25"/>
<line x1="759.10" y1="467.80" x2="1194.80" y2="467.80" stroke="#3d4fae" stroke-width="2.2"/>
<g clip-path="url(#cb)">
<path d="M759.10,212.00V222.20M755.00,212.00H763.20M755.00,222.20H763.20M765.41,188.62V198.58M761.31,188.62H769.51M761.31,198.58H769.51M771.72,220.04V229.76M767.62,220.04H775.82M767.62,229.76H775.82M778.03,265.16V274.64M773.93,265.16H782.13M773.93,274.64H782.13M784.34,291.68V300.92M780.24,291.68H788.44M780.24,300.92H788.44M790.64,304.40V313.40M786.54,304.40H794.75M786.54,313.40H794.75M796.95,317.92V326.68M792.85,317.92H801.05M792.85,326.68H801.05M803.26,340.14V348.66M799.16,340.14H807.36M799.16,348.66H807.36M809.57,343.96V352.24M805.47,343.96H813.67M805.47,352.24H813.67M815.88,357.78V365.82M811.78,357.78H819.98M811.78,365.82H819.98M822.19,368.60V376.40M818.09,368.60H826.29M818.09,376.40H826.29M828.50,377.62V385.18M824.40,377.62H832.60M824.40,385.18H832.60M834.81,386.84V394.16M830.71,386.84H838.91M830.71,394.16H838.91M841.12,395.26V402.34M837.02,395.26H845.22M837.02,402.34H845.22M847.43,399.98V406.82M843.33,399.98H851.53M843.33,406.82H851.53M853.74,404.80V411.40M849.63,404.80H857.84M849.63,411.40H857.84M860.04,409.52V415.88M855.94,409.52H864.14M855.94,415.88H864.14M866.35,413.04V419.16M862.25,413.04H870.45M862.25,419.16H870.45M872.66,417.76V423.64M868.56,417.76H876.76M868.56,423.64H876.76M878.97,421.48V427.12M874.87,421.48H883.07M874.87,427.12H883.07M885.28,423.00V428.40M881.18,423.00H889.38M881.18,428.40H889.38M891.59,426.22V431.38M887.49,426.22H895.69M887.49,431.38H895.69M897.90,430.64V435.56M893.80,430.64H902.00M893.80,435.56H902.00M904.21,431.86V436.54M900.11,431.86H908.31M900.11,436.54H908.31M910.52,432.68V437.12M906.42,432.68H914.62M906.42,437.12H914.62M916.83,437.20V441.40M912.73,437.20H920.93M912.73,441.40H920.93M923.13,438.82V442.78M919.03,438.82H927.23M919.03,442.78H927.23M929.44,439.74V443.46M925.34,439.74H933.54M925.34,443.46H933.54M935.75,441.26V444.74M931.65,441.26H939.85M931.65,444.74H939.85M942.06,442.88V446.12M937.96,442.88H946.16M937.96,446.12H946.16M948.37,444.20V447.20M944.27,444.20H952.47M944.27,447.20H952.47M954.68,445.00V447.80M950.58,445.00H958.78M950.58,447.80H958.78M960.99,445.45V448.25M956.89,445.45H965.09M956.89,448.25H965.09M967.30,445.90V448.70M963.20,445.90H971.40M963.20,448.70H971.40M973.61,446.75V449.55M969.51,446.75H977.71M969.51,449.55H977.71M979.91,447.60V450.40M975.81,447.60H984.01M975.81,450.40H984.01M986.22,449.20V452.00M982.12,449.20H990.32M982.12,452.00H990.32M992.53,450.80V453.60M988.43,450.80H996.63M988.43,453.60H996.63M998.84,450.80V453.60M994.74,450.80H1002.94M994.74,453.60H1002.94M1005.15,450.80V453.60M1001.05,450.80H1009.25M1001.05,453.60H1009.25M1011.46,452.05V454.85M1007.36,452.05H1015.56M1007.36,454.85H1015.56M1017.77,453.30V456.10M1013.67,453.30H1021.87M1013.67,456.10H1021.87M1024.08,454.55V457.35M1019.98,454.55H1028.18M1019.98,457.35H1028.18M1030.39,455.80V458.60M1026.29,455.80H1034.49M1026.29,458.60H1034.49M1036.70,456.20V459.00M1032.60,456.20H1040.80M1032.60,459.00H1040.80M1043.01,456.60V459.40M1038.91,456.60H1047.11M1038.91,459.40H1047.11M1049.31,457.00V459.80M1045.21,457.00H1053.41M1045.21,459.80H1053.41M1055.62,457.40V460.20M1051.52,457.40H1059.72M1051.52,460.20H1059.72M1061.93,457.85V460.65M1057.83,457.85H1066.03M1057.83,460.65H1066.03M1068.24,458.30V461.10M1064.14,458.30H1072.34M1064.14,461.10H1072.34M1074.55,459.10V461.90M1070.45,459.10H1078.65M1070.45,461.90H1078.65M1080.86,459.90V462.70M1076.76,459.90H1084.96M1076.76,462.70H1084.96M1087.17,460.30V463.10M1083.07,460.30H1091.27M1083.07,463.10H1091.27M1093.48,460.70V463.50M1089.38,460.70H1097.58M1089.38,463.50H1097.58M1099.79,460.30V463.10M1095.69,460.30H1103.89M1095.69,463.10H1103.89M1106.10,459.90V462.70M1102.00,459.90H1110.19M1102.00,462.70H1110.19M1112.40,459.50V462.30M1108.30,459.50H1116.50M1108.30,462.30H1116.50M1118.71,459.10V461.90M1114.61,459.10H1122.81M1114.61,461.90H1122.81M1125.02,459.10V461.90M1120.92,459.10H1129.12M1120.92,461.90H1129.12M1131.33,459.60V462.40M1127.23,459.60H1135.43M1127.23,462.40H1135.43M1137.64,460.10V462.90M1133.54,460.10H1141.74M1133.54,462.90H1141.74M1143.95,460.85V463.65M1139.85,460.85H1148.05M1139.85,463.65H1148.05M1150.26,461.60V464.40M1146.16,461.60H1154.36M1146.16,464.40H1154.36M1156.57,461.43V464.23M1152.47,461.43H1160.67M1152.47,464.23H1160.67M1162.88,461.27V464.07M1158.78,461.27H1166.98M1158.78,464.07H1166.98M1169.18,461.10V463.90M1165.09,461.10H1173.28M1165.09,463.90H1173.28M1175.49,461.60V464.40M1171.39,461.60H1179.59M1171.39,464.40H1179.59M1181.80,462.10V464.90M1177.70,462.10H1185.90M1177.70,464.90H1185.90M1188.11,462.60V465.40M1184.01,462.60H1192.21M1184.01,465.40H1192.21M1194.42,461.60V464.40M1190.32,461.60H1198.52M1190.32,464.40H1198.52" fill="none" stroke="#3d4fae" stroke-width="1.0"/>
<polyline points="759.10,217.10 765.41,193.60 771.72,224.90 778.03,269.90 784.34,296.30 790.64,308.90 796.95,322.30 803.26,344.40 809.57,348.10 815.88,361.80 822.19,372.50 828.50,381.40 834.81,390.50 841.12,398.80 847.43,403.40 853.74,408.10 860.04,412.70 866.35,416.10 872.66,420.70 878.97,424.30 885.28,425.70 891.59,428.80 897.90,433.10 904.21,434.20 910.52,434.90 916.83,439.30 923.13,440.80 929.44,441.60 935.75,443.00 942.06,444.50 948.37,445.70 954.68,446.40 960.99,446.85 967.30,447.30 973.61,448.15 979.91,449.00 986.22,450.60 992.53,452.20 998.84,452.20 1005.15,452.20 1011.46,453.45 1017.77,454.70 1024.08,455.95 1030.39,457.20 1036.70,457.60 1043.01,458.00 1049.31,458.40 1055.62,458.80 1061.93,459.25 1068.24,459.70 1074.55,460.50 1080.86,461.30 1087.17,461.70 1093.48,462.10 1099.79,461.70 1106.10,461.30 1112.40,460.90 1118.71,460.50 1125.02,460.50 1131.33,461.00 1137.64,461.50 1143.95,462.25 1150.26,463.00 1156.57,462.83 1162.88,462.67 1169.18,462.50 1175.49,463.00 1181.80,463.50 1188.11,464.00 1194.42,463.00" fill="none" stroke="#3d4fae" stroke-width="1.05" stroke-linejoin="round" />
</g>
<g clip-path="url(#cb)">
<path d="M759.10,169.60V180.80M755.00,169.60H763.20M755.00,180.80H763.20M765.41,53.00V64.20M761.31,53.00H769.51M761.31,64.20H769.51M771.72,76.50V87.70M767.62,76.50H775.82M767.62,87.70H775.82M778.03,82.40V93.60M773.93,82.40H782.13M773.93,93.60H782.13M784.34,104.60V115.80M780.24,104.60H788.44M780.24,115.80H788.44M790.64,122.10V131.30M786.54,122.10H794.75M786.54,131.30H794.75M796.95,139.80V149.00M792.85,139.80H801.05M792.85,149.00H801.05M803.26,159.50V168.70M799.16,159.50H807.36M799.16,168.70H807.36M809.57,176.30V185.50M805.47,176.30H813.67M805.47,185.50H813.67M815.88,177.00V186.20M811.78,177.00H819.98M811.78,186.20H819.98M822.19,196.60V205.80M818.09,196.60H826.29M818.09,205.80H826.29M828.50,201.70V210.90M824.40,201.70H832.60M824.40,210.90H832.60M834.81,207.40V216.60M830.71,207.40H838.91M830.71,216.60H838.91M841.12,224.50V233.70M837.02,224.50H845.22M837.02,233.70H845.22M847.43,223.20V232.40M843.33,223.20H851.53M843.33,232.40H851.53M853.74,244.80V254.00M849.63,244.80H857.84M849.63,254.00H857.84M860.04,249.20V258.40M855.94,249.20H864.14M855.94,258.40H864.14M866.35,262.80V272.00M862.25,262.80H870.45M862.25,272.00H870.45M872.66,266.00V275.20M868.56,266.00H876.76M868.56,275.20H876.76M878.97,266.00V275.20M874.87,266.00H883.07M874.87,275.20H883.07M885.28,276.70V285.90M881.18,276.70H889.38M881.18,285.90H889.38M891.59,276.70V285.90M887.49,276.70H895.69M887.49,285.90H895.69M897.90,278.10V287.30M893.80,278.10H902.00M893.80,287.30H902.00M904.21,286.30V295.50M900.11,286.30H908.31M900.11,295.50H908.31M910.52,286.30V295.50M906.42,286.30H914.62M906.42,295.50H914.62M916.83,294.00V303.20M912.73,294.00H920.93M912.73,303.20H920.93M923.13,294.90V304.10M919.03,294.90H927.23M919.03,304.10H927.23M929.44,295.90V305.10M925.34,295.90H933.54M925.34,305.10H933.54M935.75,295.90V305.10M931.65,295.90H939.85M931.65,305.10H939.85M942.06,304.50V313.70M937.96,304.50H946.16M937.96,313.70H946.16M948.37,308.40V317.60M944.27,308.40H952.47M944.27,317.60H952.47M954.68,311.20V320.40M950.58,311.20H958.78M950.58,320.40H958.78M960.99,312.20V321.40M956.89,312.20H965.09M956.89,321.40H965.09M967.30,306.90V316.10M963.20,306.90H971.40M963.20,316.10H971.40M973.61,312.20V321.40M969.51,312.20H977.71M969.51,321.40H977.71M979.91,312.70V321.90M975.81,312.70H984.01M975.81,321.90H984.01M986.22,319.90V329.10M982.12,319.90H990.32M982.12,329.10H990.32M992.53,312.70V321.90M988.43,312.70H996.63M988.43,321.90H996.63M998.84,313.60V322.80M994.74,313.60H1002.94M994.74,322.80H1002.94M1005.15,316.50V325.70M1001.05,316.50H1009.25M1001.05,325.70H1009.25M1011.46,316.60V325.80M1007.36,316.60H1015.56M1007.36,325.80H1015.56M1017.77,318.30V327.50M1013.67,318.30H1021.87M1013.67,327.50H1021.87M1024.08,317.40V326.60M1019.98,317.40H1028.18M1019.98,326.60H1028.18M1030.39,320.70V329.90M1026.29,320.70H1034.49M1026.29,329.90H1034.49M1036.70,316.60V325.80M1032.60,316.60H1040.80M1032.60,325.80H1040.80M1043.01,315.80V325.00M1038.91,315.80H1047.11M1038.91,325.00H1047.11M1049.31,319.90V329.10M1045.21,319.90H1053.41M1045.21,329.10H1053.41M1055.62,319.90V329.10M1051.52,319.90H1059.72M1051.52,329.10H1059.72M1061.93,324.00V333.20M1057.83,324.00H1066.03M1057.83,333.20H1066.03M1068.24,315.80V325.00M1064.14,315.80H1072.34M1064.14,325.00H1072.34M1074.55,319.90V329.10M1070.45,319.90H1078.65M1070.45,329.10H1078.65M1080.86,324.80V334.00M1076.76,324.80H1084.96M1076.76,334.00H1084.96M1087.17,324.80V334.00M1083.07,324.80H1091.27M1083.07,334.00H1091.27M1093.48,318.30V327.50M1089.38,318.30H1097.58M1089.38,327.50H1097.58M1099.79,317.40V326.60M1095.69,317.40H1103.89M1095.69,326.60H1103.89M1106.10,317.40V326.60M1102.00,317.40H1110.19M1102.00,326.60H1110.19M1112.40,315.80V325.00M1108.30,315.80H1116.50M1108.30,325.00H1116.50M1118.71,321.60V330.80M1114.61,321.60H1122.81M1114.61,330.80H1122.81M1125.02,323.20V332.40M1120.92,323.20H1129.12M1120.92,332.40H1129.12M1131.33,318.30V327.50M1127.23,318.30H1135.43M1127.23,327.50H1135.43M1137.64,320.70V329.90M1133.54,320.70H1141.74M1133.54,329.90H1141.74M1143.95,319.10V328.30M1139.85,319.10H1148.05M1139.85,328.30H1148.05M1150.26,317.40V326.60M1146.16,317.40H1154.36M1146.16,326.60H1154.36M1156.57,319.10V328.30M1152.47,319.10H1160.67M1152.47,328.30H1160.67M1162.88,316.60V325.80M1158.78,316.60H1166.98M1158.78,325.80H1166.98M1169.18,318.30V327.50M1165.09,318.30H1173.28M1165.09,327.50H1173.28M1175.49,319.90V329.10M1171.39,319.90H1179.59M1171.39,329.10H1179.59M1181.80,323.20V332.40M1177.70,323.20H1185.90M1177.70,332.40H1185.90M1188.11,322.40V331.60M1184.01,322.40H1192.21M1184.01,331.60H1192.21M1194.42,324.00V333.20M1190.32,324.00H1198.52M1190.32,333.20H1198.52" fill="none" stroke="#d03030" stroke-width="1.0"/>
<polyline points="759.10,175.20 765.41,58.60 771.72,82.10 778.03,88.00 784.34,110.20 790.64,126.70 796.95,144.40 803.26,164.10 809.57,180.90 815.88,181.60 822.19,201.20 828.50,206.30 834.81,212.00 841.12,229.10 847.43,227.80 853.74,249.40 860.04,253.80 866.35,267.40 872.66,270.60 878.97,270.60 885.28,281.30 891.59,281.30 897.90,282.70 904.21,290.90 910.52,290.90 916.83,298.60 923.13,299.50 929.44,300.50 935.75,300.50 942.06,309.10 948.37,313.00 954.68,315.80 960.99,316.80 967.30,311.50 973.61,316.80 979.91,317.30 986.22,324.50 992.53,317.30 998.84,318.20 1005.15,321.10 1011.46,321.20 1017.77,322.90 1024.08,322.00 1030.39,325.30 1036.70,321.20 1043.01,320.40 1049.31,324.50 1055.62,324.50 1061.93,328.60 1068.24,320.40 1074.55,324.50 1080.86,329.40 1087.17,329.40 1093.48,322.90 1099.79,322.00 1106.10,322.00 1112.40,320.40 1118.71,326.20 1125.02,327.80 1131.33,322.90 1137.64,325.30 1143.95,323.70 1150.26,322.00 1156.57,323.70 1162.88,321.20 1169.18,322.90 1175.49,324.50 1181.80,327.80 1188.11,327.00 1194.42,328.60" fill="none" stroke="#d03030" stroke-width="1.05" stroke-linejoin="round" />
</g>
<clipPath id="cc"><rect x="122.10" y="626.10" width="452.90" height="453.60"/></clipPath>
<line x1="122.10" y1="986.40" x2="575.00" y2="986.40" stroke="#d03030" stroke-width="1.1"/>
<line x1="122.10" y1="990.70" x2="575.00" y2="990.70" stroke="#e06464" stroke-width="1.1"/>
<line x1="122.10" y1="1016.60" x2="575.00" y2="1016.60" stroke="#3d4fae" stroke-width="1.1"/>
<line x1="122.10" y1="1020.60" x2="575.00" y2="1020.60" stroke="#3d4fae" stroke-width="1.1"/>
<g clip-path="url(#cc)">
<path d="M122.10,704.00V710.40M114.90,704.00H129.30M114.90,710.40H129.30M131.16,975.50V979.90M123.96,975.50H138.36M123.96,979.90H138.36M140.22,982.00V986.40M133.02,982.00H147.42M133.02,986.40H147.42M149.27,993.10V997.50M142.07,993.10H156.47M142.07,997.50H156.47M158.33,1007.40V1011.80M151.13,1007.40H165.53M151.13,1011.80H165.53M167.39,1012.00V1016.40M160.19,1012.00H174.59M160.19,1016.40H174.59M176.45,1012.70V1017.10M169.25,1012.70H183.65M169.25,1017.10H183.65M185.51,1012.70V1017.10M178.31,1012.70H192.71M178.31,1017.10H192.71M194.56,1006.90V1011.30M187.36,1006.90H201.76M187.36,1011.30H201.76M203.62,1002.60V1007.00M196.42,1002.60H210.82M196.42,1007.00H210.82M212.68,1008.10V1012.50M205.48,1008.10H219.88M205.48,1012.50H219.88M221.74,1005.80V1010.20M214.54,1005.80H228.94M214.54,1010.20H228.94M230.80,1010.50V1014.90M223.60,1010.50H238.00M223.60,1014.90H238.00M239.85,1018.40V1022.80M232.65,1018.40H247.05M232.65,1022.80H247.05M248.91,1013.40V1017.80M241.71,1013.40H256.11M241.71,1017.80H256.11M257.97,1012.40V1016.80M250.77,1012.40H265.17M250.77,1016.80H265.17M267.03,1006.60V1011.00M259.83,1006.60H274.23M259.83,1011.00H274.23M276.09,1012.30V1016.70M268.89,1012.30H283.29M268.89,1016.70H283.29M285.14,1012.30V1016.70M277.94,1012.30H292.34M277.94,1016.70H292.34M294.20,1013.70V1018.10M287.00,1013.70H301.40M287.00,1018.10H301.40M303.26,1011.80V1016.20M296.06,1011.80H310.46M296.06,1016.20H310.46M312.32,1013.10V1017.50M305.12,1013.10H319.52M305.12,1017.50H319.52M321.38,1014.40V1018.80M314.18,1014.40H328.58M314.18,1018.80H328.58M330.43,1016.90V1021.30M323.23,1016.90H337.63M323.23,1021.30H337.63M339.49,1015.60V1020.00M332.29,1015.60H346.69M332.29,1020.00H346.69M348.55,1017.60V1022.00M341.35,1017.60H355.75M341.35,1022.00H355.75M357.61,1018.80V1023.20M350.41,1018.80H364.81M350.41,1023.20H364.81M366.67,1016.90V1021.30M359.47,1016.90H373.87M359.47,1021.30H373.87M375.72,1015.60V1020.00M368.52,1015.60H382.92M368.52,1020.00H382.92M384.78,1011.80V1016.20M377.58,1011.80H391.98M377.58,1016.20H391.98M393.84,1013.10V1017.50M386.64,1013.10H401.04M386.64,1017.50H401.04M402.90,1014.40V1018.80M395.70,1014.40H410.10M395.70,1018.80H410.10M411.96,1012.40V1016.80M404.76,1012.40H419.16M404.76,1016.80H419.16M421.01,1009.20V1013.60M413.81,1009.20H428.21M413.81,1013.60H428.21M430.07,1006.70V1011.10M422.87,1006.70H437.27M422.87,1011.10H437.27M439.13,1009.20V1013.60M431.93,1009.20H446.33M431.93,1013.60H446.33M448.19,1016.30V1020.70M440.99,1016.30H455.39M440.99,1020.70H455.39M457.25,1011.60V1016.00M450.05,1011.60H464.45M450.05,1016.00H464.45M466.30,1013.30V1017.70M459.10,1013.30H473.50M459.10,1017.70H473.50M475.36,1013.90V1018.30M468.16,1013.90H482.56M468.16,1018.30H482.56M484.42,1012.80V1017.20M477.22,1012.80H491.62M477.22,1017.20H491.62M493.48,1011.60V1016.00M486.28,1011.60H500.68M486.28,1016.00H500.68M502.54,1011.10V1015.50M495.34,1011.10H509.74M495.34,1015.50H509.74M511.59,1012.80V1017.20M504.39,1012.80H518.79M504.39,1017.20H518.79M520.65,1013.90V1018.30M513.45,1013.90H527.85M513.45,1018.30H527.85M529.71,1011.60V1016.00M522.51,1011.60H536.91M522.51,1016.00H536.91M538.77,1013.90V1018.30M531.57,1013.90H545.97M531.57,1018.30H545.97M547.83,1013.30V1017.70M540.63,1013.30H555.03M540.63,1017.70H555.03M556.88,1013.90V1018.30M549.68,1013.90H564.08M549.68,1018.30H564.08M565.94,1016.10V1020.50M558.74,1016.10H573.14M558.74,1020.50H573.14M575.00,1010.00V1014.40M567.80,1010.00H582.20M567.80,1014.40H582.20" fill="none" stroke="#3d4fae" stroke-width="1.0"/>
<polyline points="122.10,707.20 131.16,977.70 140.22,984.20 149.27,995.30 158.33,1009.60 167.39,1014.20 176.45,1014.90 185.51,1014.90 194.56,1009.10 203.62,1004.80 212.68,1010.30 221.74,1008.00 230.80,1012.70 239.85,1020.60 248.91,1015.60 257.97,1014.60 267.03,1008.80 276.09,1014.50 285.14,1014.50 294.20,1015.90 303.26,1014.00 312.32,1015.30 321.38,1016.60 330.43,1019.10 339.49,1017.80 348.55,1019.80 357.61,1021.00 366.67,1019.10 375.72,1017.80 384.78,1014.00 393.84,1015.30 402.90,1016.60 411.96,1014.60 421.01,1011.40 430.07,1008.90 439.13,1011.40 448.19,1018.50 457.25,1013.80 466.30,1015.50 475.36,1016.10 484.42,1015.00 493.48,1013.80 502.54,1013.30 511.59,1015.00 520.65,1016.10 529.71,1013.80 538.77,1016.10 547.83,1015.50 556.88,1016.10 565.94,1018.30 575.00,1012.20" fill="none" stroke="#3d4fae" stroke-width="1.05" stroke-linejoin="round" />
</g>
<g clip-path="url(#cc)">
<path d="M122.10,701.20V709.20M114.90,701.20H129.30M114.90,709.20H129.30M131.16,818.20V823.60M123.96,818.20H138.36M123.96,823.60H138.36M140.22,840.40V845.80M133.02,840.40H147.42M133.02,845.80H147.42M149.27,904.30V909.70M142.07,904.30H156.47M142.07,909.70H156.47M158.33,928.30V933.70M151.13,928.30H165.53M151.13,933.70H165.53M167.39,956.20V961.60M160.19,956.20H174.59M160.19,961.60H174.59M176.45,956.70V962.10M169.25,956.70H183.65M169.25,962.10H183.65M185.51,959.80V965.20M178.31,959.80H192.71M178.31,965.20H192.71M194.56,981.70V987.10M187.36,981.70H201.76M187.36,987.10H201.76M203.62,986.60V992.00M196.42,986.60H210.82M196.42,992.00H210.82M212.68,980.80V986.20M205.48,980.80H219.88M205.48,986.20H219.88M221.74,981.50V986.90M214.54,981.50H228.94M214.54,986.90H228.94M230.80,981.20V986.60M223.60,981.20H238.00M223.60,986.60H238.00M239.85,975.00V980.40M232.65,975.00H247.05M232.65,980.40H247.05M248.91,978.20V983.60M241.71,978.20H256.11M241.71,983.60H256.11M257.97,983.00V988.40M250.77,983.00H265.17M250.77,988.40H265.17M267.03,986.30V991.70M259.83,986.30H274.23M259.83,991.70H274.23M276.09,983.70V989.10M268.89,983.70H283.29M268.89,989.10H283.29M285.14,979.60V985.00M277.94,979.60H292.34M277.94,985.00H292.34M294.20,983.70V989.10M287.00,983.70H301.40M287.00,989.10H301.40M303.26,981.20V986.60M296.06,981.20H310.46M296.06,986.60H310.46M312.32,979.90V985.30M305.12,979.90H319.52M305.12,985.30H319.52M321.38,980.60V986.00M314.18,980.60H328.58M314.18,986.00H328.58M330.43,984.40V989.80M323.23,984.40H337.63M323.23,989.80H337.63M339.49,987.00V992.40M332.29,987.00H346.69M332.29,992.40H346.69M348.55,984.40V989.80M341.35,984.40H355.75M341.35,989.80H355.75M357.61,985.70V991.10M350.41,985.70H364.81M350.41,991.10H364.81M366.67,987.00V992.40M359.47,987.00H373.87M359.47,992.40H373.87M375.72,988.30V993.70M368.52,988.30H382.92M368.52,993.70H382.92M384.78,987.60V993.00M377.58,987.60H391.98M377.58,993.00H391.98M393.84,983.80V989.20M386.64,983.80H401.04M386.64,989.20H401.04M402.90,985.10V990.50M395.70,985.10H410.10M395.70,990.50H410.10M411.96,981.20V986.60M404.76,981.20H419.16M404.76,986.60H419.16M421.01,986.30V991.70M413.81,986.30H428.21M413.81,991.70H428.21M430.07,983.80V989.20M422.87,983.80H437.27M422.87,989.20H437.27M439.13,984.40V989.80M431.93,984.40H446.33M431.93,989.80H446.33M448.19,982.00V987.40M440.99,982.00H455.39M440.99,987.40H455.39M457.25,980.30V985.70M450.05,980.30H464.45M450.05,985.70H464.45M466.30,983.10V988.50M459.10,983.10H473.50M459.10,988.50H473.50M475.36,983.10V988.50M468.16,983.10H482.56M468.16,988.50H482.56M484.42,983.70V989.10M477.22,983.70H491.62M477.22,989.10H491.62M493.48,988.70V994.10M486.28,988.70H500.68M486.28,994.10H500.68M502.54,979.80V985.20M495.34,979.80H509.74M495.34,985.20H509.74M511.59,983.70V989.10M504.39,983.70H518.79M504.39,989.10H518.79M520.65,982.00V987.40M513.45,982.00H527.85M513.45,987.40H527.85M529.71,984.80V990.20M522.51,984.80H536.91M522.51,990.20H536.91M538.77,983.70V989.10M531.57,983.70H545.97M531.57,989.10H545.97M547.83,987.60V993.00M540.63,987.60H555.03M540.63,993.00H555.03M556.88,981.50V986.90M549.68,981.50H564.08M549.68,986.90H564.08M565.94,985.90V991.30M558.74,985.90H573.14M558.74,991.30H573.14M575.00,985.90V991.30M567.80,985.90H582.20M567.80,991.30H582.20" fill="none" stroke="#d03030" stroke-width="1.0"/>
<polyline points="122.10,705.20 131.16,820.90 140.22,843.10 149.27,907.00 158.33,931.00 167.39,958.90 176.45,959.40 185.51,962.50 194.56,984.40 203.62,989.30 212.68,983.50 221.74,984.20 230.80,983.90 239.85,977.70 248.91,980.90 257.97,985.70 267.03,989.00 276.09,986.40 285.14,982.30 294.20,986.40 303.26,983.90 312.32,982.60 321.38,983.30 330.43,987.10 339.49,989.70 348.55,987.10 357.61,988.40 366.67,989.70 375.72,991.00 384.78,990.30 393.84,986.50 402.90,987.80 411.96,983.90 421.01,989.00 430.07,986.50 439.13,987.10 448.19,984.70 457.25,983.00 466.30,985.80 475.36,985.80 484.42,986.40 493.48,991.40 502.54,982.50 511.59,986.40 520.65,984.70 529.71,987.50 538.77,986.40 547.83,990.30 556.88,984.20 565.94,988.60 575.00,988.60" fill="none" stroke="#d03030" stroke-width="1.05" stroke-linejoin="round" />
</g>
<clipPath id="cd"><rect x="765.10" y="633.20" width="446.60" height="447.50"/></clipPath>
<line x1="765.10" y1="1001.60" x2="1211.70" y2="1001.60" stroke="#d03030" stroke-width="1.1"/>
<line x1="765.10" y1="1004.30" x2="1211.70" y2="1004.30" stroke="#d03030" stroke-width="1.1"/>
<line x1="765.10" y1="1019.50" x2="1211.70" y2="1019.50" stroke="#3d4fae" stroke-width="1.1"/>
<line x1="765.10" y1="1022.40" x2="1211.70" y2="1022.40" stroke="#3d4fae" stroke-width="1.1"/>
<g clip-path="url(#cd)">
<path d="M765.10,682.30V688.70M750.10,682.30H780.10M750.10,688.70H780.10M774.03,976.60V980.60M759.03,976.60H789.03M759.03,980.60H789.03M782.96,931.00V935.00M767.96,931.00H797.96M767.96,935.00H797.96M791.90,973.50V977.50M776.90,973.50H806.90M776.90,977.50H806.90M800.83,968.40V972.40M785.83,968.40H815.83M785.83,972.40H815.83M809.76,1006.30V1010.30M794.76,1006.30H824.76M794.76,1010.30H824.76M818.69,1006.30V1010.30M803.69,1006.30H833.69M803.69,1010.30H833.69M827.62,1002.80V1006.80M812.62,1002.80H842.62M812.62,1006.80H842.62M836.56,993.40V997.40M821.56,993.40H851.56M821.56,997.40H851.56M845.49,1003.10V1007.10M830.49,1003.10H860.49M830.49,1007.10H860.49M854.42,1004.10V1008.10M839.42,1004.10H869.42M839.42,1008.10H869.42M863.35,1018.00V1022.00M848.35,1018.00H878.35M848.35,1022.00H878.35M872.28,1018.80V1022.80M857.28,1018.80H887.28M857.28,1022.80H887.28M881.22,1019.10V1023.10M866.22,1019.10H896.22M866.22,1023.10H896.22M890.15,1018.46V1022.46M875.15,1018.46H905.15M875.15,1022.46H905.15M899.08,1019.55V1023.55M884.08,1019.55H914.08M884.08,1023.55H914.08M908.01,1019.82V1023.82M893.01,1019.82H923.01M893.01,1023.82H923.01M916.94,1019.31V1023.31M901.94,1019.31H931.94M901.94,1023.31H931.94M925.88,1019.86V1023.86M910.88,1019.86H940.88M910.88,1023.86H940.88M934.81,1018.82V1022.82M919.81,1018.82H949.81M919.81,1022.82H949.81M943.74,1018.94V1022.94M928.74,1018.94H958.74M928.74,1022.94H958.74M952.67,1019.34V1023.34M937.67,1019.34H967.67M937.67,1023.34H967.67M961.60,1020.53V1024.53M946.60,1020.53H976.60M946.60,1024.53H976.60M970.54,1019.98V1023.98M955.54,1019.98H985.54M955.54,1023.98H985.54M979.47,1019.75V1023.75M964.47,1019.75H994.47M964.47,1023.75H994.47M988.40,1020.46V1024.46M973.40,1020.46H1003.40M973.40,1024.46H1003.40M997.33,1020.19V1024.19M982.33,1020.19H1012.33M982.33,1024.19H1012.33M1006.26,1019.87V1023.87M991.26,1019.87H1021.26M991.26,1023.87H1021.26M1015.20,1021.11V1025.11M1000.20,1021.11H1030.20M1000.20,1025.11H1030.20M1024.13,1020.93V1024.93M1009.13,1020.93H1039.13M1009.13,1024.93H1039.13M1033.06,1019.89V1023.89M1018.06,1019.89H1048.06M1018.06,1023.89H1048.06M1041.99,1020.66V1024.66M1026.99,1020.66H1056.99M1026.99,1024.66H1056.99M1050.92,1020.52V1024.52M1035.92,1020.52H1065.92M1035.92,1024.52H1065.92M1059.86,1021.34V1025.34M1044.86,1021.34H1074.86M1044.86,1025.34H1074.86M1068.79,1020.97V1024.97M1053.79,1020.97H1083.79M1053.79,1024.97H1083.79M1077.72,1019.89V1023.89M1062.72,1019.89H1092.72M1062.72,1023.89H1092.72M1086.65,1021.53V1025.53M1071.65,1021.53H1101.65M1071.65,1025.53H1101.65M1095.58,1019.44V1023.44M1080.58,1019.44H1110.58M1080.58,1023.44H1110.58M1104.52,1020.14V1024.14M1089.52,1020.14H1119.52M1089.52,1024.14H1119.52M1113.45,1020.94V1024.94M1098.45,1020.94H1128.45M1098.45,1024.94H1128.45M1122.38,1019.46V1023.46M1107.38,1019.46H1137.38M1107.38,1023.46H1137.38M1131.31,1020.29V1024.29M1116.31,1020.29H1146.31M1116.31,1024.29H1146.31M1140.24,1019.23V1023.23M1125.24,1019.23H1155.24M1125.24,1023.23H1155.24M1149.18,1020.76V1024.76M1134.18,1020.76H1164.18M1134.18,1024.76H1164.18M1158.11,1021.01V1025.01M1143.11,1021.01H1173.11M1143.11,1025.01H1173.11M1167.04,1020.58V1024.58M1152.04,1020.58H1182.04M1152.04,1024.58H1182.04M1175.97,1021.32V1025.32M1160.97,1021.32H1190.97M1160.97,1025.32H1190.97M1184.90,1019.99V1023.99M1169.90,1019.99H1199.90M1169.90,1023.99H1199.90M1193.84,1020.93V1024.93M1178.84,1020.93H1208.84M1178.84,1024.93H1208.84M1202.77,1020.71V1024.71M1187.77,1020.71H1217.77M1187.77,1024.71H1217.77M1211.70,1020.69V1024.69M1196.70,1020.69H1226.70M1196.70,1024.69H1226.70" fill="none" stroke="#3d4fae" stroke-width="1.0"/>
<polyline points="765.10,685.50 774.03,978.60 782.96,933.00 791.90,975.50 800.83,970.40 809.76,1008.30 818.69,1008.30 827.62,1004.80 836.56,995.40 845.49,1005.10 854.42,1006.10 863.35,1020.00 872.28,1020.80 881.22,1021.10 890.15,1020.46 899.08,1021.55 908.01,1021.82 916.94,1021.31 925.88,1021.86 934.81,1020.82 943.74,1020.94 952.67,1021.34 961.60,1022.53 970.54,1021.98 979.47,1021.75 988.40,1022.46 997.33,1022.19 1006.26,1021.87 1015.20,1023.11 1024.13,1022.93 1033.06,1021.89 1041.99,1022.66 1050.92,1022.52 1059.86,1023.34 1068.79,1022.97 1077.72,1021.89 1086.65,1023.53 1095.58,1021.44 1104.52,1022.14 1113.45,1022.94 1122.38,1021.46 1131.31,1022.29 1140.24,1021.23 1149.18,1022.76 1158.11,1023.01 1167.04,1022.58 1175.97,1023.32 1184.90,1021.99 1193.84,1022.93 1202.77,1022.71 1211.70,1022.69" fill="none" stroke="#3d4fae" stroke-width="1.05" stroke-linejoin="round" />
</g>
<g clip-path="url(#cd)">
<path d="M765.10,680.70V687.10M750.10,680.70H780.10M750.10,687.10H780.10M774.03,845.30V849.30M759.03,845.30H789.03M759.03,849.30H789.03M782.96,939.60V943.60M767.96,939.60H797.96M767.96,943.60H797.96M791.90,977.80V981.80M776.90,977.80H806.90M776.90,981.80H806.90M800.83,989.50V993.50M785.83,989.50H815.83M785.83,993.50H815.83M809.76,989.50V993.50M794.76,989.50H824.76M794.76,993.50H824.76M818.69,974.30V978.30M803.69,974.30H833.69M803.69,978.30H833.69M827.62,978.80V982.80M812.62,978.80H842.62M812.62,982.80H842.62M836.56,977.20V981.20M821.56,977.20H851.56M821.56,981.20H851.56M845.49,976.90V980.90M830.49,976.90H860.49M830.49,980.90H860.49M854.42,977.50V981.50M839.42,977.50H869.42M839.42,981.50H869.42M863.35,978.80V982.80M848.35,978.80H878.35M848.35,982.80H878.35M872.28,979.60V983.60M857.28,979.60H887.28M857.28,983.60H887.28M881.22,981.20V985.20M866.22,981.20H896.22M866.22,985.20H896.22M890.15,982.80V986.80M875.15,982.80H905.15M875.15,986.80H905.15M899.08,983.60V987.60M884.08,983.60H914.08M884.08,987.60H914.08M908.01,982.00V986.00M893.01,982.00H923.01M893.01,986.00H923.01M916.94,981.20V985.20M901.94,981.20H931.94M901.94,985.20H931.94M925.88,986.80V990.80M910.88,986.80H940.88M910.88,990.80H940.88M934.81,984.50V988.50M919.81,984.50H949.81M919.81,988.50H949.81M943.74,985.20V989.20M928.74,985.20H958.74M928.74,989.20H958.74M952.67,984.40V988.40M937.67,984.40H967.67M937.67,988.40H967.67M961.60,985.50V989.50M946.60,985.50H976.60M946.60,989.50H976.60M970.54,985.45V989.45M955.54,985.45H985.54M955.54,989.45H985.54M979.47,985.42V989.42M964.47,985.42H994.47M964.47,989.42H994.47M988.40,988.62V992.62M973.40,988.62H1003.40M973.40,992.62H1003.40M997.33,986.65V990.65M982.33,986.65H1012.33M982.33,990.65H1012.33M1006.26,989.67V993.67M991.26,989.67H1021.26M991.26,993.67H1021.26M1015.20,989.86V993.86M1000.20,989.86H1030.20M1000.20,993.86H1030.20M1024.13,989.38V993.38M1009.13,989.38H1039.13M1009.13,993.38H1039.13M1033.06,992.54V996.54M1018.06,992.54H1048.06M1018.06,996.54H1048.06M1041.99,991.28V995.28M1026.99,991.28H1056.99M1026.99,995.28H1056.99M1050.92,994.18V998.18M1035.92,994.18H1065.92M1035.92,998.18H1065.92M1059.86,992.54V996.54M1044.86,992.54H1074.86M1044.86,996.54H1074.86M1068.79,992.74V996.74M1053.79,992.74H1083.79M1053.79,996.74H1083.79M1077.72,994.44V998.44M1062.72,994.44H1092.72M1062.72,998.44H1092.72M1086.65,996.47V1000.47M1071.65,996.47H1101.65M1071.65,1000.47H1101.65M1095.58,993.19V997.19M1080.58,993.19H1110.58M1080.58,997.19H1110.58M1104.52,993.87V997.87M1089.52,993.87H1119.52M1089.52,997.87H1119.52M1113.45,996.01V1000.01M1098.45,996.01H1128.45M1098.45,1000.01H1128.45M1122.38,997.75V1001.75M1107.38,997.75H1137.38M1107.38,1001.75H1137.38M1131.31,996.17V1000.17M1116.31,996.17H1146.31M1116.31,1000.17H1146.31M1140.24,995.50V999.50M1125.24,995.50H1155.24M1125.24,999.50H1155.24M1149.18,998.41V1002.41M1134.18,998.41H1164.18M1134.18,1002.41H1164.18M1158.11,994.07V998.07M1143.11,994.07H1173.11M1143.11,998.07H1173.11M1167.04,998.10V1002.10M1152.04,998.10H1182.04M1152.04,1002.10H1182.04M1175.97,995.49V999.49M1160.97,995.49H1190.97M1160.97,999.49H1190.97M1184.90,994.92V998.92M1169.90,994.92H1199.90M1169.90,998.92H1199.90M1193.84,994.92V998.92M1178.84,994.92H1208.84M1178.84,998.92H1208.84M1202.77,995.96V999.96M1187.77,995.96H1217.77M1187.77,999.96H1217.77M1211.70,998.52V1002.52M1196.70,998.52H1226.70M1196.70,1002.52H1226.70" fill="none" stroke="#d03030" stroke-width="1.0"/>
<polyline points="765.10,683.90 774.03,847.30 782.96,941.60 791.90,979.80 800.83,991.50 809.76,991.50 818.69,976.30 827.62,980.80 836.56,979.20 845.49,978.90 854.42,979.50 863.35,980.80 872.28,981.60 881.22,983.20 890.15,984.80 899.08,985.60 908.01,984.00 916.94,983.20 925.88,988.80 934.81,986.50 943.74,987.20 952.67,986.40 961.60,987.50 970.54,987.45 979.47,987.42 988.40,990.62 997.33,988.65 1006.26,991.67 1015.20,991.86 1024.13,991.38 1033.06,994.54 1041.99,993.28 1050.92,996.18 1059.86,994.54 1068.79,994.74 1077.72,996.44 1086.65,998.47 1095.58,995.19 1104.52,995.87 1113.45,998.01 1122.38,999.75 1131.31,998.17 1140.24,997.50 1149.18,1000.41 1158.11,996.07 1167.04,1000.10 1175.97,997.49 1184.90,996.92 1193.84,996.92 1202.77,997.96 1211.70,1000.52" fill="none" stroke="#d03030" stroke-width="1.05" stroke-linejoin="round" />
</g>
<clipPath id="cai"><rect x="343.40" y="44.70" width="205.50" height="206.10"/></clipPath>
<g clip-path="url(#cai)">
<path d="M343.40,94.70V96.30M341.00,94.70H345.80M341.00,96.30H345.80M353.67,127.08V128.92M351.27,127.08H356.07M351.27,128.92H356.07M363.95,141.36V143.44M361.55,141.36H366.35M361.55,143.44H366.35M374.22,150.74V153.06M371.82,150.74H376.62M371.82,153.06H376.62M384.50,159.82V162.38M382.10,159.82H386.90M382.10,162.38H386.90M394.77,166.40V169.20M392.38,166.40H397.17M392.38,169.20H397.17M405.05,172.58V175.62M402.65,172.58H407.45M402.65,175.62H407.45M415.32,182.56V185.84M412.93,182.56H417.72M412.93,185.84H417.72M425.60,186.74V190.26M423.20,186.74H428.00M423.20,190.26H428.00M435.88,190.02V193.78M433.48,190.02H438.27M433.48,193.78H438.27M446.15,195.10V199.10M443.75,195.10H448.55M443.75,199.10H448.55M456.42,205.68V209.92M454.02,205.68H458.82M454.02,209.92H458.82M466.70,206.46V210.94M464.30,206.46H469.10M464.30,210.94H469.10M476.97,211.44V216.16M474.57,211.44H479.37M474.57,216.16H479.37M487.25,216.82V221.78M484.85,216.82H489.65M484.85,221.78H489.65M497.52,222.50V227.70M495.12,222.50H499.92M495.12,227.70H499.92M507.80,226.68V232.12M505.40,226.68H510.20M505.40,232.12H510.20M518.08,228.26V233.94M515.68,228.26H520.48M515.68,233.94H520.48M528.35,231.64V237.56M525.95,231.64H530.75M525.95,237.56H530.75M538.62,239.32V245.48M536.23,239.32H541.02M536.23,245.48H541.02M548.90,244.30V250.70M546.50,244.30H551.30M546.50,250.70H551.30" fill="none" stroke="#3d4fae" stroke-width="1.0"/>
<polyline points="343.40,95.50 353.67,128.00 363.95,142.40 374.22,151.90 384.50,161.10 394.77,167.80 405.05,174.10 415.32,184.20 425.60,188.50 435.88,191.90 446.15,197.10 456.42,207.80 466.70,208.70 476.97,213.80 487.25,219.30 497.52,225.10 507.80,229.40 518.08,231.10 528.35,234.60 538.62,242.40 548.90,247.50" fill="none" stroke="#3d4fae" stroke-width="1.15" stroke-linejoin="round" />
</g>
<g clip-path="url(#cai)">
<path d="M343.40,94.70V96.30M341.00,94.70H345.80M341.00,96.30H345.80M353.67,102.67V104.33M351.27,102.67H356.07M351.27,104.33H356.07M363.95,106.93V108.67M361.55,106.93H366.35M361.55,108.67H366.35M374.22,111.30V113.11M371.82,111.30H376.62M371.82,113.11H376.62M384.50,113.56V115.44M382.10,113.56H386.90M382.10,115.44H386.90M394.77,115.53V117.47M392.38,115.53H397.17M392.38,117.47H397.17M405.05,118.39V120.41M402.65,118.39H407.45M402.65,120.41H407.45M415.32,119.75V121.84M412.93,119.75H417.72M412.93,121.84H417.72M425.60,122.02V124.18M423.20,122.02H428.00M423.20,124.18H428.00M435.88,123.98V126.21M433.48,123.98H438.27M433.48,126.21H438.27M446.15,125.45V127.75M443.75,125.45H448.55M443.75,127.75H448.55M456.42,128.22V130.59M454.02,128.22H458.82M454.02,130.59H458.82M466.70,129.08V131.52M464.30,129.08H469.10M464.30,131.52H469.10M476.97,130.55V133.06M474.57,130.55H479.37M474.57,133.06H479.37M487.25,131.91V134.49M484.85,131.91H489.65M484.85,134.49H489.65M497.52,133.88V136.52M495.12,133.88H499.92M495.12,136.52H499.92M507.80,135.24V137.96M505.40,135.24H510.20M505.40,137.96H510.20M518.08,136.10V138.90M515.68,136.10H520.48M515.68,138.90H520.48M528.35,137.27V140.13M525.95,137.27H530.75M525.95,140.13H530.75M538.62,139.53V142.47M536.23,139.53H541.02M536.23,142.47H541.02M548.90,140.30V143.30M546.50,140.30H551.30M546.50,143.30H551.30" fill="none" stroke="#d03030" stroke-width="1.0"/>
<polyline points="343.40,95.50 353.67,103.50 363.95,107.80 374.22,112.20 384.50,114.50 394.77,116.50 405.05,119.40 415.32,120.80 425.60,123.10 435.88,125.10 446.15,126.60 456.42,129.40 466.70,130.30 476.97,131.80 487.25,133.20 497.52,135.20 507.80,136.60 518.08,137.50 528.35,138.70 538.62,141.00 548.90,141.80" fill="none" stroke="#d03030" stroke-width="1.15" stroke-linejoin="round" />
</g>
<clipPath id="cbi"><rect x="985.05" y="48.26" width="194.35" height="194.74"/></clipPath>
<g clip-path="url(#cbi)">
<path d="M985.05,94.70V96.30M982.65,94.70H987.45M982.65,96.30H987.45M994.77,125.68V127.52M992.37,125.68H997.17M992.37,127.52H997.17M1004.49,138.46V140.54M1002.09,138.46H1006.88M1002.09,140.54H1006.88M1014.20,147.84V150.16M1011.80,147.84H1016.60M1011.80,150.16H1016.60M1023.92,156.42V158.98M1021.52,156.42H1026.32M1021.52,158.98H1026.32M1033.64,164.60V167.40M1031.24,164.60H1036.04M1031.24,167.40H1036.04M1043.36,168.28V171.32M1040.95,168.28H1045.76M1040.95,171.32H1045.76M1053.07,173.86V177.14M1050.67,173.86H1055.47M1050.67,177.14H1055.47M1062.79,180.44V183.96M1060.39,180.44H1065.19M1060.39,183.96H1065.19M1072.51,188.02V191.78M1070.11,188.02H1074.91M1070.11,191.78H1074.91M1082.22,193.10V197.10M1079.82,193.10H1084.62M1079.82,197.10H1084.62M1091.94,194.98V199.22M1089.54,194.98H1094.34M1089.54,199.22H1094.34M1101.66,199.26V203.74M1099.26,199.26H1104.06M1099.26,203.74H1104.06M1111.38,205.44V210.16M1108.98,205.44H1113.78M1108.98,210.16H1113.78M1121.10,207.62V212.58M1118.69,207.62H1123.50M1118.69,212.58H1123.50M1130.81,219.00V224.20M1128.41,219.00H1133.21M1128.41,224.20H1133.21M1140.53,220.28V225.72M1138.13,220.28H1142.93M1138.13,225.72H1142.93M1150.25,223.06V228.74M1147.85,223.06H1152.65M1147.85,228.74H1152.65M1159.97,228.74V234.66M1157.57,228.74H1162.37M1157.57,234.66H1162.37M1169.68,229.22V235.38M1167.28,229.22H1172.08M1167.28,235.38H1172.08M1179.40,235.70V242.10M1177.00,235.70H1181.80M1177.00,242.10H1181.80" fill="none" stroke="#3d4fae" stroke-width="1.0"/>
<polyline points="985.05,95.50 994.77,126.60 1004.49,139.50 1014.20,149.00 1023.92,157.70 1033.64,166.00 1043.36,169.80 1053.07,175.50 1062.79,182.20 1072.51,189.90 1082.22,195.10 1091.94,197.10 1101.66,201.50 1111.38,207.80 1121.10,210.10 1130.81,221.60 1140.53,223.00 1150.25,225.90 1159.97,231.70 1169.68,232.30 1179.40,238.90" fill="none" stroke="#3d4fae" stroke-width="1.15" stroke-linejoin="round" />
</g>
<g clip-path="url(#cbi)">
<path d="M985.05,94.70V96.30M982.65,94.70H987.45M982.65,96.30H987.45M994.77,103.27V104.93M992.37,103.27H997.17M992.37,104.93H997.17M1004.49,106.93V108.67M1002.09,106.93H1006.88M1002.09,108.67H1006.88M1014.20,110.69V112.50M1011.80,110.69H1016.60M1011.80,112.50H1016.60M1023.92,113.56V115.44M1021.52,113.56H1026.32M1021.52,115.44H1026.32M1033.64,116.12V118.07M1031.24,116.12H1036.04M1031.24,118.07H1036.04M1043.36,118.39V120.41M1040.95,118.39H1045.76M1040.95,120.41H1045.76M1053.07,120.36V122.45M1050.67,120.36H1055.47M1050.67,122.45H1055.47M1062.79,122.02V124.18M1060.39,122.02H1065.19M1060.39,124.18H1065.19M1072.51,123.19V125.41M1070.11,123.19H1074.91M1070.11,125.41H1074.91M1082.22,124.85V127.15M1079.82,124.85H1084.62M1079.82,127.15H1084.62M1091.94,127.41V129.78M1089.54,127.41H1094.34M1089.54,129.78H1094.34M1101.66,128.18V130.62M1099.26,128.18H1104.06M1099.26,130.62H1104.06M1111.38,129.65V132.16M1108.98,129.65H1113.78M1108.98,132.16H1113.78M1121.10,131.01V133.59M1118.69,131.01H1123.50M1118.69,133.59H1123.50M1130.81,132.48V135.12M1128.41,132.48H1133.21M1128.41,135.12H1133.21M1140.53,133.84V136.56M1138.13,133.84H1142.93M1138.13,136.56H1142.93M1150.25,135.20V138.00M1147.85,135.20H1152.65M1147.85,138.00H1152.65M1159.97,136.07V138.93M1157.57,136.07H1162.37M1157.57,138.93H1162.37M1169.68,137.23V140.16M1167.28,137.23H1172.08M1167.28,140.16H1172.08M1179.40,138.90V141.90M1177.00,138.90H1181.80M1177.00,141.90H1181.80" fill="none" stroke="#d03030" stroke-width="1.0"/>
<polyline points="985.05,95.50 994.77,104.10 1004.49,107.80 1014.20,111.60 1023.92,114.50 1033.64,117.10 1043.36,119.40 1053.07,121.40 1062.79,123.10 1072.51,124.30 1082.22,126.00 1091.94,128.60 1101.66,129.40 1111.38,130.90 1121.10,132.30 1130.81,133.80 1140.53,135.20 1150.25,136.60 1159.97,137.50 1169.68,138.70 1179.40,140.40" fill="none" stroke="#d03030" stroke-width="1.15" stroke-linejoin="round" />
</g>
<clipPath id="cci"><rect x="337.75" y="641.40" width="220.85" height="221.10"/></clipPath>
<g clip-path="url(#cci)">
<path d="M337.75,641.10V642.70M335.35,641.10H340.15M335.35,642.70H340.15M348.79,720.98V722.82M346.39,720.98H351.19M346.39,722.82H351.19M359.83,743.66V745.74M357.44,743.66H362.23M357.44,745.74H362.23M370.88,760.24V762.56M368.48,760.24H373.28M368.48,762.56H373.28M381.92,764.62V767.18M379.52,764.62H384.32M379.52,767.18H384.32M392.96,775.20V778.00M390.56,775.20H395.36M390.56,778.00H395.36M404.00,780.28V783.32M401.61,780.28H406.40M401.61,783.32H406.40M415.05,784.06V787.34M412.65,784.06H417.45M412.65,787.34H417.45M426.09,782.44V785.96M423.69,782.44H428.49M423.69,785.96H428.49M437.13,786.82V790.58M434.73,786.82H439.53M434.73,790.58H439.53M448.18,791.90V795.90M445.78,791.90H450.57M445.78,795.90H450.57M459.22,791.18V795.42M456.82,791.18H461.62M456.82,795.42H461.62M470.26,792.56V797.04M467.86,792.56H472.66M467.86,797.04H472.66M481.30,793.34V798.06M478.90,793.34H483.70M478.90,798.06H483.70M492.35,794.52V799.48M489.95,794.52H494.75M489.95,799.48H494.75M503.39,792.20V797.40M500.99,792.20H505.79M500.99,797.40H505.79M514.43,798.18V803.62M512.03,798.18H516.83M512.03,803.62H516.83M525.47,792.86V798.54M523.07,792.86H527.87M523.07,798.54H527.87M536.51,795.84V801.76M534.12,795.84H538.91M534.12,801.76H538.91M547.56,799.32V805.48M545.16,799.32H549.96M545.16,805.48H549.96M558.60,798.30V804.70M556.20,798.30H561.00M556.20,804.70H561.00" fill="none" stroke="#3d4fae" stroke-width="1.0"/>
<polyline points="337.75,641.90 348.79,721.90 359.83,744.70 370.88,761.40 381.92,765.90 392.96,776.60 404.00,781.80 415.05,785.70 426.09,784.20 437.13,788.70 448.18,793.90 459.22,793.30 470.26,794.80 481.30,795.70 492.35,797.00 503.39,794.80 514.43,800.90 525.47,795.70 536.51,798.80 547.56,802.40 558.60,801.50" fill="none" stroke="#3d4fae" stroke-width="1.15" stroke-linejoin="round" />
</g>
<g clip-path="url(#cci)">
<path d="M337.75,641.10V642.70M335.35,641.10H340.15M335.35,642.70H340.15M348.79,685.46V687.13M346.39,685.46H351.19M346.39,687.13H351.19M359.83,707.33V709.07M357.44,707.33H362.23M357.44,709.07H362.23M370.88,721.60V723.40M368.48,721.60H373.28M368.48,723.40H373.28M381.92,730.36V732.24M379.52,730.36H384.32M379.52,732.24H384.32M392.96,738.23V740.18M390.56,738.23H395.36M390.56,740.18H395.36M404.00,742.69V744.71M401.61,742.69H406.40M401.61,744.71H406.40M415.05,748.16V750.25M412.65,748.16H417.45M412.65,750.25H417.45M426.09,753.32V755.48M423.69,753.32H428.49M423.69,755.48H428.49M437.13,759.38V761.62M434.73,759.38H439.53M434.73,761.62H439.53M448.18,762.35V764.65M445.78,762.35H450.57M445.78,764.65H450.57M459.22,765.32V767.68M456.82,765.32H461.62M456.82,767.68H461.62M470.26,768.68V771.12M467.86,768.68H472.66M467.86,771.12H472.66M481.30,768.35V770.86M478.90,768.35H483.70M478.90,770.86H483.70M492.35,772.21V774.79M489.95,772.21H494.75M489.95,774.79H494.75M503.39,774.38V777.03M500.99,774.38H505.79M500.99,777.03H505.79M514.43,773.74V776.46M512.03,773.74H516.83M512.03,776.46H516.83M525.47,777.61V780.39M523.07,777.61H527.87M523.07,780.39H527.87M536.51,780.67V783.53M534.12,780.67H538.91M534.12,783.53H538.91M547.56,779.63V782.57M545.16,779.63H549.96M545.16,782.57H549.96M558.60,779.60V782.60M556.20,779.60H561.00M556.20,782.60H561.00" fill="none" stroke="#d03030" stroke-width="1.0"/>
<polyline points="337.75,641.90 348.79,686.30 359.83,708.20 370.88,722.50 381.92,731.30 392.96,739.20 404.00,743.70 415.05,749.20 426.09,754.40 437.13,760.50 448.18,763.50 459.22,766.50 470.26,769.90 481.30,769.60 492.35,773.50 503.39,775.70 514.43,775.10 525.47,779.00 536.51,782.10 547.56,781.10 558.60,781.10" fill="none" stroke="#d03030" stroke-width="1.15" stroke-linejoin="round" />
</g>
<clipPath id="cdi"><rect x="957.10" y="665.90" width="224.00" height="224.70"/></clipPath>
<g clip-path="url(#cdi)">
<path d="M957.10,640.40V642.00M954.70,640.40H959.50M954.70,642.00H959.50M968.30,760.68V762.52M965.90,760.68H970.70M965.90,762.52H970.70M979.50,793.16V795.24M977.10,793.16H981.90M977.10,795.24H981.90M990.70,812.74V815.06M988.30,812.74H993.10M988.30,815.06H993.10M1001.90,825.72V828.28M999.50,825.72H1004.30M999.50,828.28H1004.30M1013.10,830.10V832.90M1010.70,830.10H1015.50M1010.70,832.90H1015.50M1024.30,842.78V845.82M1021.90,842.78H1026.70M1021.90,845.82H1026.70M1035.50,845.06V848.34M1033.10,845.06H1037.90M1033.10,848.34H1037.90M1046.70,856.54V860.06M1044.30,856.54H1049.10M1044.30,860.06H1049.10M1057.90,856.42V860.18M1055.50,856.42H1060.30M1055.50,860.18H1060.30M1069.10,852.40V856.40M1066.70,852.40H1071.50M1066.70,856.40H1071.50M1080.30,859.88V864.12M1077.90,859.88H1082.70M1077.90,864.12H1082.70M1091.50,860.36V864.84M1089.10,860.36H1093.90M1089.10,864.84H1093.90M1102.70,858.94V863.66M1100.30,858.94H1105.10M1100.30,863.66H1105.10M1113.90,854.92V859.88M1111.50,854.92H1116.30M1111.50,859.88H1116.30M1125.10,863.90V869.10M1122.70,863.90H1127.50M1122.70,869.10H1127.50M1136.30,866.88V872.32M1133.90,866.88H1138.70M1133.90,872.32H1138.70M1147.50,865.76V871.44M1145.10,865.76H1149.90M1145.10,871.44H1149.90M1158.70,871.14V877.06M1156.30,871.14H1161.10M1156.30,877.06H1161.10M1169.90,870.42V876.58M1167.50,870.42H1172.30M1167.50,876.58H1172.30M1181.10,869.40V875.80M1178.70,869.40H1183.50M1178.70,875.80H1183.50" fill="none" stroke="#3d4fae" stroke-width="1.0"/>
<polyline points="957.10,641.20 968.30,761.60 979.50,794.20 990.70,813.90 1001.90,827.00 1013.10,831.50 1024.30,844.30 1035.50,846.70 1046.70,858.30 1057.90,858.30 1069.10,854.40 1080.30,862.00 1091.50,862.60 1102.70,861.30 1113.90,857.40 1125.10,866.50 1136.30,869.60 1147.50,868.60 1158.70,874.10 1169.90,873.50 1181.10,872.60" fill="none" stroke="#3d4fae" stroke-width="1.15" stroke-linejoin="round" />
</g>
<g clip-path="url(#cdi)">
<path d="M957.10,636.10V637.70M954.70,636.10H959.50M954.70,637.70H959.50M968.30,728.87V730.54M965.90,728.87H970.70M965.90,730.54H970.70M979.50,757.73V759.47M977.10,757.73H981.90M977.10,759.47H981.90M990.70,777.39V779.20M988.30,777.39H993.10M988.30,779.20H993.10M1001.90,789.56V791.44M999.50,789.56H1004.30M999.50,791.44H1004.30M1013.10,799.23V801.18M1010.70,799.23H1015.50M1010.70,801.18H1015.50M1024.30,808.69V810.71M1021.90,808.69H1026.70M1021.90,810.71H1026.70M1035.50,816.86V818.94M1033.10,816.86H1037.90M1033.10,818.94H1037.90M1046.70,818.92V821.08M1044.30,818.92H1049.10M1044.30,821.08H1049.10M1057.90,832.59V834.82M1055.50,832.59H1060.30M1055.50,834.82H1060.30M1069.10,834.95V837.25M1066.70,834.95H1071.50M1066.70,837.25H1071.50M1080.30,839.52V841.88M1077.90,839.52H1082.70M1077.90,841.88H1082.70M1091.50,840.98V843.42M1089.10,840.98H1093.90M1089.10,843.42H1093.90M1102.70,844.85V847.36M1100.30,844.85H1105.10M1100.30,847.36H1105.10M1113.90,848.51V851.09M1111.50,848.51H1116.30M1111.50,851.09H1116.30M1125.10,847.57V850.23M1122.70,847.57H1127.50M1122.70,850.23H1127.50M1136.30,846.94V849.66M1133.90,846.94H1138.70M1133.90,849.66H1138.70M1147.50,844.71V847.50M1145.10,844.71H1149.90M1145.10,847.50H1149.90M1158.70,850.47V853.33M1156.30,850.47H1161.10M1156.30,853.33H1161.10M1169.90,849.83V852.76M1167.50,849.83H1172.30M1167.50,852.76H1172.30M1181.10,865.00V868.00M1178.70,865.00H1183.50M1178.70,868.00H1183.50" fill="none" stroke="#d03030" stroke-width="1.0"/>
<polyline points="957.10,636.90 968.30,729.70 979.50,758.60 990.70,778.30 1001.90,790.50 1013.10,800.20 1024.30,809.70 1035.50,817.90 1046.70,820.00 1057.90,833.70 1069.10,836.10 1080.30,840.70 1091.50,842.20 1102.70,846.10 1113.90,849.80 1125.10,848.90 1136.30,848.30 1147.50,846.10 1158.70,851.90 1169.90,851.30 1181.10,866.50" fill="none" stroke="#d03030" stroke-width="1.15" stroke-linejoin="round" />
</g>
<g transform="translate(280.86,60.86) scale(1,1.01)" fill="#262626" stroke="#262626" stroke-width="0.3"><path transform="translate(0.00,0) scale(0.03340,-0.03340)" stroke-width="8.98" d="M250,0L353,0L353,709L278,709C262,640 200,578 85,567L85,494L250,494Z"/><text x="18.58" y="0" font-size="33.4">0</text></g>
<text transform="translate(318.27,43.98) scale(1,1.01)" font-size="26.5" fill="#262626" stroke="#262626" stroke-width="0.3">0</text>
<g transform="translate(273.36,197.76) scale(1,1.01)" fill="#262626" stroke="#262626" stroke-width="0.3"><path transform="translate(0.00,0) scale(0.03340,-0.03340)" stroke-width="8.98" d="M250,0L353,0L353,709L278,709C262,640 200,578 85,567L85,494L250,494Z"/><text x="18.58" y="0" font-size="33.4">0</text></g>
<text transform="translate(318.78,180.38) scale(1,1.01)" font-size="26.5" fill="#262626" stroke="#262626" stroke-width="0.3">2</text>
<rect x="310.90" y="172.15" width="6.70" height="2.1" fill="#262626"/>
<text transform="translate(334.11,288.26) scale(1,1.01)" font-size="33.4" fill="#262626" stroke="#262626" stroke-width="0.3">0</text>
<g transform="translate(426.96,288.26) scale(1,1.01)" fill="#262626" stroke="#262626" stroke-width="0.3"><path transform="translate(0.00,0) scale(0.03340,-0.03340)" stroke-width="8.98" d="M250,0L353,0L353,709L278,709C262,640 200,578 85,567L85,494L250,494Z"/><text x="18.58" y="0" font-size="33.4">0</text></g>
<text transform="translate(530.15,288.26) scale(1,1.01)" font-size="33.4" fill="#262626" stroke="#262626" stroke-width="0.3">20</text>
<text transform="translate(422.64,325.22) scale(1,1.04)" font-size="37.0" fill="#262626" stroke="#262626" stroke-width="0.3">Ns</text>
<text transform="translate(260.90,236.56) rotate(-90) scale(1,1.04)" font-size="37.0" fill="#262626" stroke="#262626" stroke-width="0.3">Error prob.</text>
<g transform="translate(922.56,63.86) scale(1,1.01)" fill="#262626" stroke="#262626" stroke-width="0.3"><path transform="translate(0.00,0) scale(0.03340,-0.03340)" stroke-width="8.98" d="M250,0L353,0L353,709L278,709C262,640 200,578 85,567L85,494L250,494Z"/><text x="18.58" y="0" font-size="33.4">0</text></g>
<text transform="translate(959.37,47.28) scale(1,1.01)" font-size="26.5" fill="#262626" stroke="#262626" stroke-width="0.3">0</text>
<g transform="translate(913.86,193.56) scale(1,1.01)" fill="#262626" stroke="#262626" stroke-width="0.3"><path transform="translate(0.00,0) scale(0.03340,-0.03340)" stroke-width="8.98" d="M250,0L353,0L353,709L278,709C262,640 200,578 85,567L85,494L250,494Z"/><text x="18.58" y="0" font-size="33.4">0</text></g>
<text transform="translate(959.67,177.08) scale(1,1.01)" font-size="26.5" fill="#262626" stroke="#262626" stroke-width="0.3">2</text>
<rect x="952.60" y="168.85" width="6.70" height="2.1" fill="#262626"/>
<text transform="translate(975.76,279.66) scale(1,1.01)" font-size="33.4" fill="#262626" stroke="#262626" stroke-width="0.3">0</text>
<g transform="translate(1063.04,279.66) scale(1,1.01)" fill="#262626" stroke="#262626" stroke-width="0.3"><path transform="translate(0.00,0) scale(0.03340,-0.03340)" stroke-width="8.98" d="M250,0L353,0L353,709L278,709C262,640 200,578 85,567L85,494L250,494Z"/><text x="18.58" y="0" font-size="33.4">0</text></g>
<text transform="translate(1160.65,279.66) scale(1,1.01)" font-size="33.4" fill="#262626" stroke="#262626" stroke-width="0.3">20</text>
<text transform="translate(1059.04,317.52) scale(1,1.04)" font-size="37.0" fill="#262626" stroke="#262626" stroke-width="0.3">Ns</text>
<text transform="translate(902.10,235.41) rotate(-90) scale(1,1.04)" font-size="37.0" fill="#262626" stroke="#262626" stroke-width="0.3">Error prob.</text>
<g transform="translate(267.56,708.56) scale(1,1.01)" fill="#262626" stroke="#262626" stroke-width="0.3"><path transform="translate(0.00,0) scale(0.03340,-0.03340)" stroke-width="8.98" d="M250,0L353,0L353,709L278,709C262,640 200,578 85,567L85,494L250,494Z"/><text x="18.58" y="0" font-size="33.4">0</text></g>
<g transform="translate(313.99,691.71) scale(1,1.01)" fill="#262626" stroke="#262626" stroke-width="0.3"><path transform="translate(0.00,0) scale(0.02650,-0.02650)" stroke-width="11.32" d="M250,0L353,0L353,709L278,709C262,640 200,578 85,567L85,494L250,494Z"/></g>
<rect x="305.10" y="683.75" width="6.70" height="2.1" fill="#262626"/>
<g transform="translate(267.56,877.96) scale(1,1.01)" fill="#262626" stroke="#262626" stroke-width="0.3"><path transform="translate(0.00,0) scale(0.03340,-0.03340)" stroke-width="8.98" d="M250,0L353,0L353,709L278,709C262,640 200,578 85,567L85,494L250,494Z"/><text x="18.58" y="0" font-size="33.4">0</text></g>
<text transform="translate(313.07,861.68) scale(1,1.01)" font-size="26.5" fill="#262626" stroke="#262626" stroke-width="0.3">2</text>
<rect x="305.10" y="853.15" width="6.70" height="2.1" fill="#262626"/>
<text transform="translate(328.46,899.16) scale(1,1.01)" font-size="33.4" fill="#262626" stroke="#262626" stroke-width="0.3">0</text>
<g transform="translate(428.99,899.16) scale(1,1.01)" fill="#262626" stroke="#262626" stroke-width="0.3"><path transform="translate(0.00,0) scale(0.03340,-0.03340)" stroke-width="8.98" d="M250,0L353,0L353,709L278,709C262,640 200,578 85,567L85,494L250,494Z"/><text x="18.58" y="0" font-size="33.4">0</text></g>
<text transform="translate(539.85,899.16) scale(1,1.01)" font-size="33.4" fill="#262626" stroke="#262626" stroke-width="0.3">20</text>
<text transform="translate(425.24,937.62) scale(1,1.04)" font-size="37.0" fill="#262626" stroke="#262626" stroke-width="0.3">Ns</text>
<text transform="translate(255.00,842.36) rotate(-90) scale(1,1.04)" font-size="37.0" fill="#262626" stroke="#262626" stroke-width="0.3">Error prob.</text>
<g transform="translate(886.06,681.76) scale(1,1.01)" fill="#262626" stroke="#262626" stroke-width="0.3"><path transform="translate(0.00,0) scale(0.03340,-0.03340)" stroke-width="8.98" d="M250,0L353,0L353,709L278,709C262,640 200,578 85,567L85,494L250,494Z"/><text x="18.58" y="0" font-size="33.4">0</text></g>
<g transform="translate(932.69,664.71) scale(1,1.01)" fill="#262626" stroke="#262626" stroke-width="0.3"><path transform="translate(0.00,0) scale(0.02650,-0.02650)" stroke-width="11.32" d="M250,0L353,0L353,709L278,709C262,640 200,578 85,567L85,494L250,494Z"/></g>
<rect x="924.50" y="655.75" width="7.30" height="2.1" fill="#262626"/>
<g transform="translate(886.46,906.66) scale(1,1.01)" fill="#262626" stroke="#262626" stroke-width="0.3"><path transform="translate(0.00,0) scale(0.03340,-0.03340)" stroke-width="8.98" d="M250,0L353,0L353,709L278,709C262,640 200,578 85,567L85,494L250,494Z"/><text x="18.58" y="0" font-size="33.4">0</text></g>
<text transform="translate(931.57,889.88) scale(1,1.01)" font-size="26.5" fill="#262626" stroke="#262626" stroke-width="0.3">2</text>
<rect x="924.50" y="881.85" width="7.00" height="2.1" fill="#262626"/>
<text transform="translate(947.81,928.26) scale(1,1.01)" font-size="33.4" fill="#262626" stroke="#262626" stroke-width="0.3">0</text>
<g transform="translate(1049.91,928.26) scale(1,1.01)" fill="#262626" stroke="#262626" stroke-width="0.3"><path transform="translate(0.00,0) scale(0.03340,-0.03340)" stroke-width="8.98" d="M250,0L353,0L353,709L278,709C262,640 200,578 85,567L85,494L250,494Z"/><text x="18.58" y="0" font-size="33.4">0</text></g>
<text transform="translate(1162.35,928.26) scale(1,1.01)" font-size="33.4" fill="#262626" stroke="#262626" stroke-width="0.3">20</text>
<text transform="translate(1046.04,965.32) scale(1,1.04)" font-size="37.0" fill="#262626" stroke="#262626" stroke-width="0.3">Ns</text>
<text transform="translate(874.20,868.31) rotate(-90) scale(1,1.04)" font-size="37.0" fill="#262626" stroke="#262626" stroke-width="0.3">Error prob.</text>
<path d="M1106.4,558.4L1125.8,577.4M1106.4,577.4L1125.8,558.4" stroke="#000" stroke-width="1.15" fill="none"/>
<g transform="translate(1131.47,578.77) scale(1,1.01)" fill="#000" stroke="#000" stroke-width="0.8"><path transform="translate(0.00,0) scale(0.04250,-0.04250)" stroke-width="18.82" d="M250,0L353,0L353,709L278,709C262,640 200,578 85,567L85,494L250,494Z"/><text x="23.64" y="0" font-size="42.5">0</text></g>
<text transform="translate(1181.75,556.64) scale(1,1.01)" font-size="32" fill="#000" stroke="#000" stroke-width="0.8">5</text>
</svg></body></html>
